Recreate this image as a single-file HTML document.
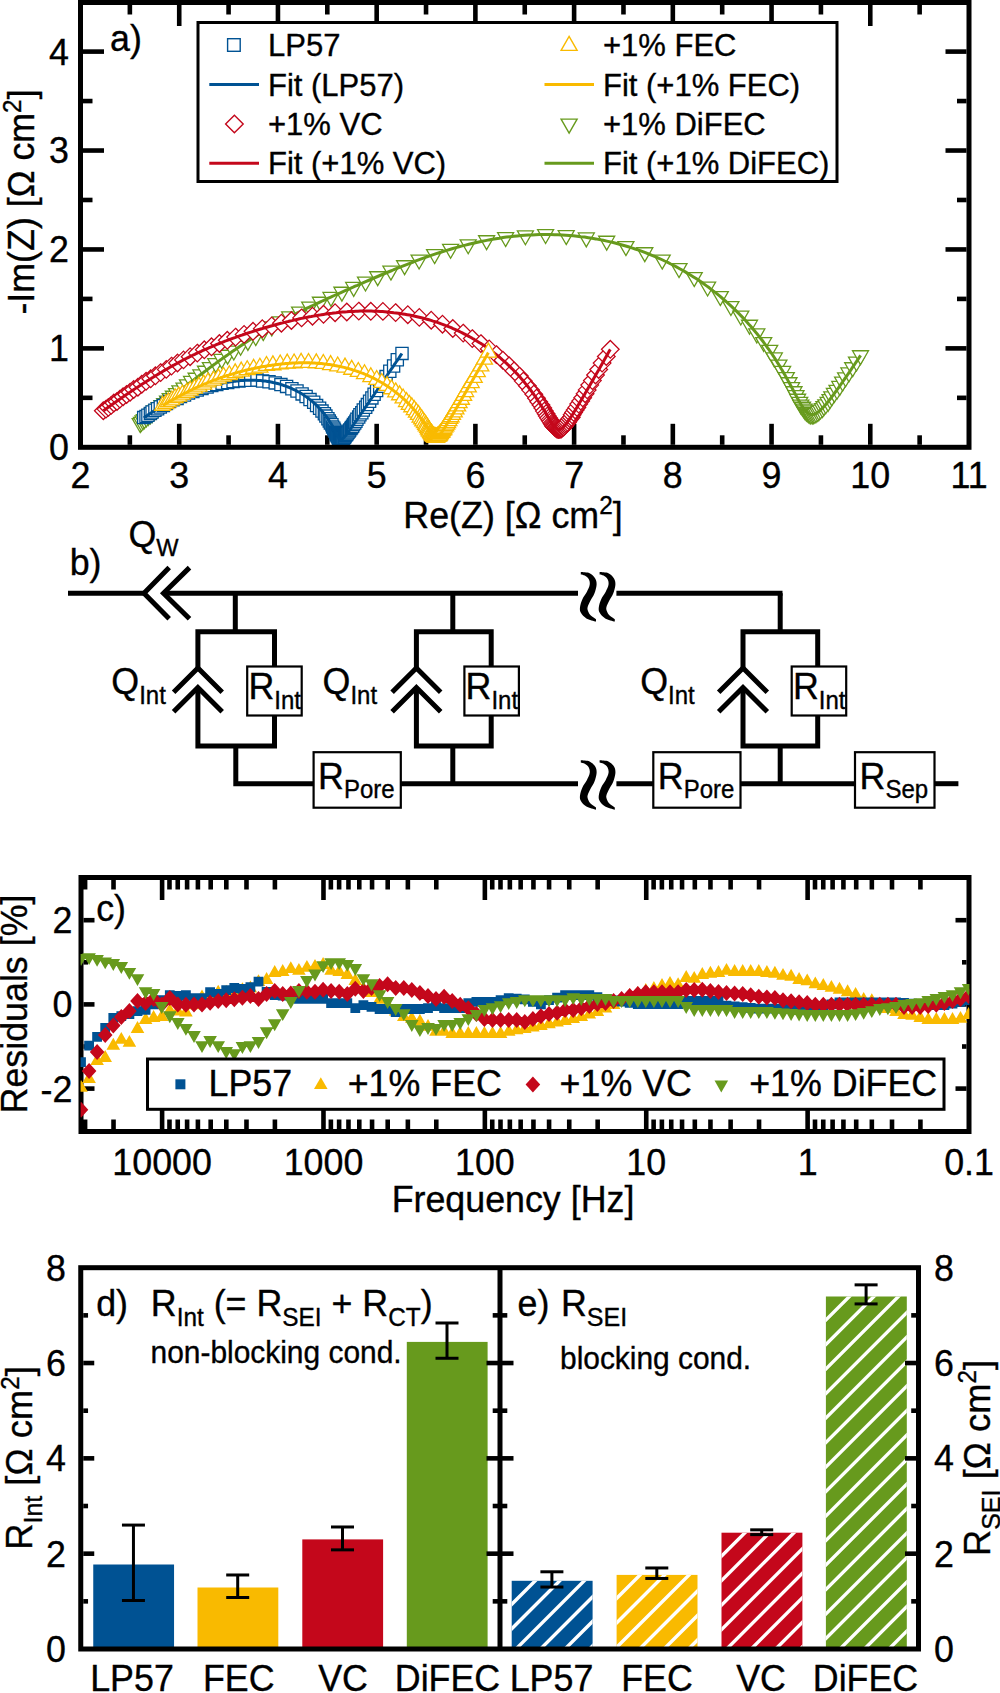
<!DOCTYPE html>
<html><head><meta charset="utf-8"><title>Figure</title>
<style>html,body{margin:0;padding:0;background:#fff}svg{display:block}text{font-family:"Liberation Sans",Arial,Helvetica,sans-serif;fill:#000;stroke:#000;stroke-width:0.35px}</style>
</head><body>
<svg width="1000" height="1693" viewBox="0 0 1000 1693">
<rect width="1000" height="1693" fill="#fff"/>
<defs>
<clipPath id="clipA"><rect x="80.5" y="2.5" width="888.5" height="444.8"/></clipPath>
<clipPath id="clipC"><rect x="80.6" y="877.5" width="888.8" height="254.0"/></clipPath>
<path id="m_sq" d="M-6.1 -6.1h12.2v12.2h-12.2z"/><path id="m_di" d="M0 -8.8l8.8 8.8l-8.8 8.8l-8.8 -8.8z"/><path id="m_up" d="M0 -9.27l8 13.9h-16z"/><path id="m_dn" d="M0 9.27l8 -13.9h-16z"/>
</defs>
<line x1="129.86" y1="444.80" x2="129.86" y2="435.30" stroke="#000" stroke-width="4.6" />
<line x1="129.86" y1="5.00" x2="129.86" y2="14.50" stroke="#000" stroke-width="4.6" />
<line x1="179.22" y1="444.80" x2="179.22" y2="423.80" stroke="#000" stroke-width="4.6" />
<line x1="179.22" y1="5.00" x2="179.22" y2="26.00" stroke="#000" stroke-width="4.6" />
<line x1="228.58" y1="444.80" x2="228.58" y2="435.30" stroke="#000" stroke-width="4.6" />
<line x1="228.58" y1="5.00" x2="228.58" y2="14.50" stroke="#000" stroke-width="4.6" />
<line x1="277.94" y1="444.80" x2="277.94" y2="423.80" stroke="#000" stroke-width="4.6" />
<line x1="277.94" y1="5.00" x2="277.94" y2="26.00" stroke="#000" stroke-width="4.6" />
<line x1="327.31" y1="444.80" x2="327.31" y2="435.30" stroke="#000" stroke-width="4.6" />
<line x1="327.31" y1="5.00" x2="327.31" y2="14.50" stroke="#000" stroke-width="4.6" />
<line x1="376.67" y1="444.80" x2="376.67" y2="423.80" stroke="#000" stroke-width="4.6" />
<line x1="376.67" y1="5.00" x2="376.67" y2="26.00" stroke="#000" stroke-width="4.6" />
<line x1="426.03" y1="444.80" x2="426.03" y2="435.30" stroke="#000" stroke-width="4.6" />
<line x1="426.03" y1="5.00" x2="426.03" y2="14.50" stroke="#000" stroke-width="4.6" />
<line x1="475.39" y1="444.80" x2="475.39" y2="423.80" stroke="#000" stroke-width="4.6" />
<line x1="475.39" y1="5.00" x2="475.39" y2="26.00" stroke="#000" stroke-width="4.6" />
<line x1="524.75" y1="444.80" x2="524.75" y2="435.30" stroke="#000" stroke-width="4.6" />
<line x1="524.75" y1="5.00" x2="524.75" y2="14.50" stroke="#000" stroke-width="4.6" />
<line x1="574.11" y1="444.80" x2="574.11" y2="423.80" stroke="#000" stroke-width="4.6" />
<line x1="574.11" y1="5.00" x2="574.11" y2="26.00" stroke="#000" stroke-width="4.6" />
<line x1="623.47" y1="444.80" x2="623.47" y2="435.30" stroke="#000" stroke-width="4.6" />
<line x1="623.47" y1="5.00" x2="623.47" y2="14.50" stroke="#000" stroke-width="4.6" />
<line x1="672.83" y1="444.80" x2="672.83" y2="423.80" stroke="#000" stroke-width="4.6" />
<line x1="672.83" y1="5.00" x2="672.83" y2="26.00" stroke="#000" stroke-width="4.6" />
<line x1="722.19" y1="444.80" x2="722.19" y2="435.30" stroke="#000" stroke-width="4.6" />
<line x1="722.19" y1="5.00" x2="722.19" y2="14.50" stroke="#000" stroke-width="4.6" />
<line x1="771.56" y1="444.80" x2="771.56" y2="423.80" stroke="#000" stroke-width="4.6" />
<line x1="771.56" y1="5.00" x2="771.56" y2="26.00" stroke="#000" stroke-width="4.6" />
<line x1="820.92" y1="444.80" x2="820.92" y2="435.30" stroke="#000" stroke-width="4.6" />
<line x1="820.92" y1="5.00" x2="820.92" y2="14.50" stroke="#000" stroke-width="4.6" />
<line x1="870.28" y1="444.80" x2="870.28" y2="423.80" stroke="#000" stroke-width="4.6" />
<line x1="870.28" y1="5.00" x2="870.28" y2="26.00" stroke="#000" stroke-width="4.6" />
<line x1="919.64" y1="444.80" x2="919.64" y2="435.30" stroke="#000" stroke-width="4.6" />
<line x1="919.64" y1="5.00" x2="919.64" y2="14.50" stroke="#000" stroke-width="4.6" />
<line x1="83.00" y1="397.84" x2="92.50" y2="397.84" stroke="#000" stroke-width="4.6" />
<line x1="966.50" y1="397.84" x2="957.00" y2="397.84" stroke="#000" stroke-width="4.6" />
<line x1="83.00" y1="348.38" x2="104.00" y2="348.38" stroke="#000" stroke-width="4.6" />
<line x1="966.50" y1="348.38" x2="945.50" y2="348.38" stroke="#000" stroke-width="4.6" />
<line x1="83.00" y1="298.91" x2="92.50" y2="298.91" stroke="#000" stroke-width="4.6" />
<line x1="966.50" y1="298.91" x2="957.00" y2="298.91" stroke="#000" stroke-width="4.6" />
<line x1="83.00" y1="249.45" x2="104.00" y2="249.45" stroke="#000" stroke-width="4.6" />
<line x1="966.50" y1="249.45" x2="945.50" y2="249.45" stroke="#000" stroke-width="4.6" />
<line x1="83.00" y1="199.99" x2="92.50" y2="199.99" stroke="#000" stroke-width="4.6" />
<line x1="966.50" y1="199.99" x2="957.00" y2="199.99" stroke="#000" stroke-width="4.6" />
<line x1="83.00" y1="150.53" x2="104.00" y2="150.53" stroke="#000" stroke-width="4.6" />
<line x1="966.50" y1="150.53" x2="945.50" y2="150.53" stroke="#000" stroke-width="4.6" />
<line x1="83.00" y1="101.06" x2="92.50" y2="101.06" stroke="#000" stroke-width="4.6" />
<line x1="966.50" y1="101.06" x2="957.00" y2="101.06" stroke="#000" stroke-width="4.6" />
<line x1="83.00" y1="51.60" x2="104.00" y2="51.60" stroke="#000" stroke-width="4.6" />
<line x1="966.50" y1="51.60" x2="945.50" y2="51.60" stroke="#000" stroke-width="4.6" />
<g clip-path="url(#clipA)">
<g fill="#fff" stroke="#679A1D" stroke-width="1.3">
<use href="#m_dn" x="140.2" y="423.3"/>
<use href="#m_dn" x="141.5" y="422.0"/>
<use href="#m_dn" x="143.0" y="420.5"/>
<use href="#m_dn" x="144.4" y="419.4"/>
<use href="#m_dn" x="146.4" y="417.7"/>
<use href="#m_dn" x="148.3" y="416.1"/>
<use href="#m_dn" x="150.3" y="414.6"/>
<use href="#m_dn" x="152.3" y="413.1"/>
<use href="#m_dn" x="154.5" y="410.9"/>
<use href="#m_dn" x="156.7" y="409.4"/>
<use href="#m_dn" x="159.0" y="407.2"/>
<use href="#m_dn" x="161.9" y="405.3"/>
<use href="#m_dn" x="164.6" y="403.3"/>
<use href="#m_dn" x="167.5" y="400.7"/>
<use href="#m_dn" x="170.2" y="398.3"/>
<use href="#m_dn" x="173.3" y="395.9"/>
<use href="#m_dn" x="176.6" y="393.2"/>
<use href="#m_dn" x="179.9" y="390.5"/>
<use href="#m_dn" x="184.0" y="387.7"/>
<use href="#m_dn" x="187.5" y="384.5"/>
<use href="#m_dn" x="191.6" y="381.1"/>
<use href="#m_dn" x="196.1" y="377.9"/>
<use href="#m_dn" x="200.9" y="374.6"/>
<use href="#m_dn" x="205.5" y="370.9"/>
<use href="#m_dn" x="210.4" y="367.2"/>
<use href="#m_dn" x="215.8" y="363.3"/>
<use href="#m_dn" x="221.7" y="359.0"/>
<use href="#m_dn" x="227.6" y="354.9"/>
<use href="#m_dn" x="233.8" y="350.7"/>
<use href="#m_dn" x="240.6" y="346.0"/>
<use href="#m_dn" x="247.9" y="341.1"/>
<use href="#m_dn" x="255.7" y="336.3"/>
<use href="#m_dn" x="263.2" y="331.3"/>
<use href="#m_dn" x="271.8" y="326.6"/>
<use href="#m_dn" x="280.6" y="321.5"/>
<use href="#m_dn" x="289.7" y="316.6"/>
<use href="#m_dn" x="299.6" y="311.8"/>
<use href="#m_dn" x="309.7" y="306.7"/>
<use href="#m_dn" x="320.4" y="301.9"/>
<use href="#m_dn" x="331.0" y="297.1"/>
<use href="#m_dn" x="341.9" y="291.9"/>
<use href="#m_dn" x="353.7" y="287.1"/>
<use href="#m_dn" x="365.5" y="281.7"/>
<use href="#m_dn" x="377.7" y="276.4"/>
<use href="#m_dn" x="390.9" y="270.8"/>
<use href="#m_dn" x="404.6" y="265.4"/>
<use href="#m_dn" x="419.1" y="259.7"/>
<use href="#m_dn" x="434.6" y="254.3"/>
<use href="#m_dn" x="450.6" y="249.0"/>
<use href="#m_dn" x="468.2" y="244.5"/>
<use href="#m_dn" x="486.6" y="240.4"/>
<use href="#m_dn" x="505.6" y="237.3"/>
<use href="#m_dn" x="525.4" y="235.5"/>
<use href="#m_dn" x="545.6" y="234.2"/>
<use href="#m_dn" x="566.2" y="235.3"/>
<use href="#m_dn" x="586.3" y="237.6"/>
<use href="#m_dn" x="606.7" y="240.9"/>
<use href="#m_dn" x="625.9" y="246.3"/>
<use href="#m_dn" x="644.8" y="252.4"/>
<use href="#m_dn" x="662.2" y="259.8"/>
<use href="#m_dn" x="679.0" y="268.3"/>
<use href="#m_dn" x="694.2" y="277.3"/>
<use href="#m_dn" x="707.6" y="286.7"/>
<use href="#m_dn" x="720.3" y="296.3"/>
<use href="#m_dn" x="730.9" y="306.2"/>
<use href="#m_dn" x="740.8" y="315.7"/>
<use href="#m_dn" x="749.5" y="324.9"/>
<use href="#m_dn" x="756.8" y="333.6"/>
<use href="#m_dn" x="763.7" y="342.2"/>
<use href="#m_dn" x="769.7" y="350.0"/>
<use href="#m_dn" x="774.3" y="357.6"/>
<use href="#m_dn" x="778.9" y="364.7"/>
<use href="#m_dn" x="782.6" y="371.1"/>
<use href="#m_dn" x="786.3" y="377.2"/>
<use href="#m_dn" x="789.0" y="382.4"/>
<use href="#m_dn" x="791.6" y="387.2"/>
<use href="#m_dn" x="794.0" y="391.4"/>
<use href="#m_dn" x="796.0" y="395.3"/>
<use href="#m_dn" x="797.6" y="398.9"/>
<use href="#m_dn" x="799.7" y="402.0"/>
<use href="#m_dn" x="800.8" y="404.8"/>
<use href="#m_dn" x="802.5" y="406.9"/>
<use href="#m_dn" x="803.9" y="408.8"/>
<use href="#m_dn" x="805.0" y="410.5"/>
<use href="#m_dn" x="806.4" y="412.0"/>
<use href="#m_dn" x="807.8" y="412.7"/>
<use href="#m_dn" x="808.8" y="413.6"/>
<use href="#m_dn" x="809.9" y="414.3"/>
<use href="#m_dn" x="810.8" y="414.6"/>
<use href="#m_dn" x="812.3" y="414.6"/>
<use href="#m_dn" x="813.6" y="414.4"/>
<use href="#m_dn" x="814.9" y="414.0"/>
<use href="#m_dn" x="816.1" y="413.2"/>
<use href="#m_dn" x="817.7" y="412.3"/>
<use href="#m_dn" x="819.0" y="411.1"/>
<use href="#m_dn" x="820.6" y="409.7"/>
<use href="#m_dn" x="822.4" y="408.3"/>
<use href="#m_dn" x="823.9" y="406.4"/>
<use href="#m_dn" x="825.8" y="404.5"/>
<use href="#m_dn" x="828.1" y="402.1"/>
<use href="#m_dn" x="830.0" y="399.2"/>
<use href="#m_dn" x="831.8" y="396.6"/>
<use href="#m_dn" x="834.4" y="393.1"/>
<use href="#m_dn" x="837.0" y="390.0"/>
<use href="#m_dn" x="839.8" y="386.1"/>
<use href="#m_dn" x="842.6" y="381.8"/>
<use href="#m_dn" x="845.6" y="377.5"/>
<use href="#m_dn" x="848.9" y="372.6"/>
<use href="#m_dn" x="852.7" y="367.4"/>
<use href="#m_dn" x="856.5" y="361.7"/>
<use href="#m_dn" x="860.5" y="355.4"/>
</g>
<polyline points="139.9,423.2 140.2,423.0 140.5,422.8 140.8,422.5 141.0,422.3 141.3,422.1 141.6,421.8 141.9,421.6 142.2,421.4 142.5,421.1 142.8,420.9 143.1,420.6 143.4,420.4 143.7,420.1 144.0,419.9 144.3,419.6 144.6,419.3 144.9,419.1 145.2,418.8 145.6,418.6 145.9,418.3 146.2,418.0 146.5,417.7 146.9,417.5 147.2,417.2 147.6,416.9 147.9,416.6 148.3,416.3 148.6,416.0 149.0,415.7 149.3,415.4 149.7,415.1 150.0,414.8 150.4,414.5 150.8,414.2 151.2,413.9 151.5,413.6 151.9,413.3 152.3,413.0 152.7,412.7 153.1,412.3 153.5,412.0 153.9,411.7 154.3,411.3 154.7,411.0 155.1,410.7 155.5,410.3 156.0,410.0 156.4,409.6 156.8,409.3 157.2,408.9 157.7,408.6 158.1,408.2 158.6,407.8 159.0,407.5 159.5,407.1 159.9,406.7 160.4,406.3 160.9,406.0 161.3,405.6 161.8,405.2 162.3,404.8 162.8,404.4 163.3,404.0 163.8,403.6 164.3,403.2 164.8,402.8 165.3,402.4 165.8,401.9 166.3,401.5 166.8,401.1 167.4,400.7 167.9,400.2 168.4,399.8 169.0,399.4 169.5,398.9 170.1,398.5 170.7,398.0 171.2,397.6 171.8,397.1 172.4,396.6 173.0,396.2 173.6,395.7 174.2,395.2 174.8,394.7 175.4,394.3 176.0,393.8 176.6,393.3 177.2,392.8 177.9,392.3 178.5,391.8 179.1,391.3 179.8,390.7 180.4,390.2 181.1,389.7 181.8,389.2 182.4,388.6 183.1,388.1 183.8,387.6 184.5,387.0 185.2,386.5 185.9,385.9 186.6,385.3 187.4,384.8 188.1,384.2 188.8,383.6 189.6,383.1 190.3,382.5 191.1,381.9 191.9,381.3 192.6,380.7 193.4,380.1 194.2,379.5 195.0,378.9 195.8,378.2 196.6,377.6 197.5,377.0 198.3,376.4 199.1,375.7 200.0,375.1 200.8,374.4 201.7,373.8 202.6,373.1 203.5,372.5 204.4,371.8 205.3,371.1 206.2,370.4 207.1,369.7 208.0,369.0 208.9,368.4 209.9,367.6 210.8,366.9 211.8,366.2 212.8,365.5 213.8,364.8 214.8,364.1 215.8,363.3 216.8,362.6 217.8,361.8 218.9,361.1 219.9,360.3 221.0,359.6 222.0,358.8 223.1,358.0 224.2,357.2 225.3,356.5 226.4,355.7 227.6,354.9 228.7,354.1 229.8,353.3 231.0,352.4 232.2,351.6 233.4,350.8 234.6,350.0 235.8,349.2 237.0,348.3 238.3,347.5 239.5,346.6 240.8,345.8 242.1,344.9 243.4,344.1 244.7,343.2 246.0,342.3 247.3,341.5 248.7,340.6 250.1,339.7 251.4,338.8 252.8,337.9 254.2,337.1 255.7,336.2 257.1,335.3 258.6,334.4 260.0,333.5 261.5,332.6 263.0,331.7 264.5,330.8 266.1,329.9 267.6,329.0 269.2,328.1 270.8,327.2 272.3,326.3 273.9,325.4 275.6,324.4 277.2,323.5 278.8,322.6 280.5,321.7 282.2,320.8 283.9,319.9 285.6,319.0 287.3,318.1 289.0,317.2 290.8,316.3 292.5,315.4 294.3,314.5 296.1,313.6 297.9,312.7 299.7,311.8 301.5,310.9 303.3,310.0 305.2,309.1 307.0,308.2 308.9,307.3 310.8,306.4 312.7,305.5 314.6,304.6 316.5,303.7 318.4,302.8 320.4,301.9 322.3,301.0 324.3,300.1 326.3,299.2 328.3,298.2 330.3,297.3 332.3,296.4 334.3,295.5 336.3,294.6 338.4,293.7 340.4,292.8 342.5,291.8 344.6,290.9 346.7,290.0 348.8,289.1 350.9,288.1 353.1,287.2 355.2,286.2 357.4,285.3 359.6,284.3 361.7,283.4 364.0,282.4 366.2,281.4 368.4,280.5 370.7,279.5 373.0,278.5 375.3,277.5 377.6,276.5 379.9,275.5 382.3,274.5 384.7,273.5 387.1,272.5 389.5,271.5 392.0,270.5 394.4,269.4 396.9,268.4 399.5,267.4 402.0,266.4 404.6,265.3 407.2,264.3 409.8,263.3 412.5,262.3 415.2,261.2 417.9,260.2 420.6,259.2 423.4,258.2 426.2,257.2 429.0,256.2 431.9,255.2 434.8,254.2 437.7,253.2 440.7,252.3 443.7,251.3 446.7,250.4 449.7,249.5 452.8,248.5 456.0,247.6 459.1,246.8 462.3,245.9 465.5,245.1 468.8,244.3 472.0,243.5 475.4,242.7 478.7,242.0 482.1,241.3 485.5,240.6 488.9,239.9 492.4,239.3 495.9,238.7 499.4,238.2 502.9,237.6 506.5,237.1 510.1,236.7 513.7,236.3 517.3,235.9 521.0,235.6 524.6,235.3 528.3,235.1 532.0,234.9 535.7,234.7 539.5,234.6 543.2,234.6 546.9,234.6 550.7,234.6 554.5,234.7 558.2,234.8 562.0,235.0 565.8,235.2 569.6,235.5 573.3,235.8 577.1,236.2 580.8,236.7 584.6,237.1 588.3,237.7 592.1,238.3 595.8,238.9 599.5,239.6 603.2,240.3 606.8,241.1 610.5,241.9 614.1,242.8 617.7,243.7 621.2,244.7 624.8,245.7 628.3,246.8 631.8,247.9 635.2,249.0 638.7,250.2 642.1,251.4 645.4,252.7 648.7,254.0 652.0,255.3 655.2,256.7 658.4,258.1 661.6,259.5 664.7,261.0 667.8,262.4 670.8,264.0 673.8,265.5 676.8,267.1 679.7,268.7 682.5,270.3 685.3,271.9 688.1,273.6 690.8,275.2 693.5,276.9 696.1,278.6 698.7,280.3 701.3,282.1 703.7,283.8 706.2,285.6 708.6,287.3 710.9,289.1 713.2,290.9 715.5,292.6 717.7,294.4 719.9,296.2 722.0,298.0 724.1,299.8 726.1,301.5 728.1,303.3 730.1,305.1 732.0,306.9 733.8,308.6 735.7,310.4 737.4,312.1 739.2,313.9 740.9,315.6 742.6,317.4 744.2,319.1 745.8,320.8 747.3,322.5 748.8,324.2 750.3,325.8 751.8,327.5 753.2,329.2 754.5,330.8 755.9,332.4 757.2,334.0 758.5,335.6 759.7,337.2 760.9,338.8 762.1,340.3 763.3,341.8 764.4,343.3 765.5,344.8 766.6,346.3 767.6,347.8 768.6,349.2 769.6,350.6 770.6,352.0 771.6,353.4 772.5,354.8 773.4,356.2 774.3,357.5 775.1,358.8 775.9,360.1 776.8,361.4 777.5,362.7 778.3,363.9 779.1,365.1 779.8,366.3 780.5,367.5 781.2,368.7 781.9,369.8 782.6,371.0 783.2,372.1 783.9,373.2 784.5,374.3 785.1,375.3 785.7,376.4 786.3,377.4 786.8,378.4 787.4,379.4 787.9,380.4 788.4,381.3 789.0,382.3 789.5,383.2 789.9,384.1 790.4,385.0 790.9,385.9 791.4,386.7 791.8,387.6 792.2,388.4 792.7,389.2 793.1,390.0 793.5,390.8 793.9,391.6 794.3,392.3 794.7,393.0 795.1,393.8 795.4,394.5 795.8,395.1 796.2,395.8 796.5,396.5 796.9,397.1 797.2,397.8 797.5,398.4 797.9,399.0 798.2,399.6 798.5,400.1 798.8,400.7 799.1,401.2 799.4,401.8 799.7,402.3 800.0,402.8 800.3,403.3 800.6,403.8 800.9,404.3 801.1,404.7 801.4,405.2 801.7,405.6 802.0,406.0 802.2,406.4 802.5,406.8 802.7,407.2 803.0,407.6 803.2,408.0 803.5,408.3 803.7,408.7 804.0,409.0 804.2,409.3 804.5,409.7 804.7,410.0 804.9,410.2 805.2,410.5 805.4,410.8 805.6,411.1 805.8,411.3 806.1,411.6 806.3,411.8 806.5,412.0 806.8,412.2 807.0,412.4 807.2,412.6 807.4,412.8 807.6,413.0 807.9,413.1 808.1,413.3 808.3,413.4 808.5,413.6 808.7,413.7 809.0,413.8 809.2,413.9 809.4,414.0 809.6,414.1 809.8,414.2 810.1,414.3 810.3,414.4 810.5,414.4 810.7,414.5 810.9,414.5 811.1,414.5 811.4,414.6 811.6,414.6 811.8,414.6 812.0,414.6 812.3,414.6 812.5,414.6 812.7,414.6 812.9,414.5 813.2,414.5 813.4,414.4 813.6,414.4 813.9,414.3 814.1,414.3 814.3,414.2 814.6,414.1 814.8,414.0 815.0,413.9 815.3,413.8 815.5,413.7 815.8,413.6 816.0,413.4 816.3,413.3 816.5,413.1 816.8,413.0 817.0,412.8 817.3,412.6 817.5,412.5 817.8,412.3 818.1,412.1 818.3,411.9 818.6,411.7 818.9,411.5 819.1,411.2 819.4,411.0 819.7,410.8 820.0,410.5 820.3,410.3 820.6,410.0 820.8,409.7 821.1,409.4 821.4,409.1 821.7,408.8 822.0,408.5 822.3,408.2 822.7,407.9 823.0,407.6 823.3,407.2 823.6,406.9 823.9,406.5 824.2,406.2 824.6,405.8 824.9,405.4 825.2,405.1 825.6,404.7 825.9,404.3 826.3,403.8 826.6,403.4 827.0,403.0 827.4,402.6 827.7,402.1 828.1,401.6 828.5,401.2 828.8,400.7 829.2,400.2 829.6,399.7 830.0,399.2 830.4,398.7 830.8,398.2 831.2,397.7 831.6,397.1 832.0,396.6 832.5,396.0 832.9,395.4 833.3,394.9 833.8,394.3 834.2,393.7 834.7,393.1 835.1,392.4 835.6,391.8 836.0,391.2 836.5,390.5 837.0,389.9 837.5,389.2 838.0,388.5 838.5,387.8 839.0,387.1 839.5,386.4 840.0,385.6 840.5,384.9 841.0,384.2 841.6,383.4 842.1,382.6 842.7,381.8 843.2,381.0 843.8,380.2 844.4,379.4 844.9,378.5 845.5,377.7 846.1,376.8 846.7,376.0 847.3,375.1 848.0,374.2 848.6,373.2 849.2,372.3 849.9,371.4 850.5,370.4 851.2,369.4 851.8,368.4 852.5,367.4 853.2,366.4 853.9,365.4 854.6,364.4 855.3,363.3 856.1,362.2 856.8,361.1 857.5,360.0 858.3,358.9 859.0,357.8 859.8,356.6 860.6,355.4" fill="none" stroke="#679A1D" stroke-width="3" stroke-linejoin="round"/>
<g fill="#fff" stroke="#005293" stroke-width="1.3">
<use href="#m_sq" x="143.7" y="417.6"/>
<use href="#m_sq" x="146.0" y="416.6"/>
<use href="#m_sq" x="147.9" y="415.3"/>
<use href="#m_sq" x="150.4" y="413.6"/>
<use href="#m_sq" x="152.1" y="412.0"/>
<use href="#m_sq" x="154.9" y="410.3"/>
<use href="#m_sq" x="157.6" y="408.8"/>
<use href="#m_sq" x="160.3" y="407.0"/>
<use href="#m_sq" x="163.4" y="405.6"/>
<use href="#m_sq" x="166.4" y="403.4"/>
<use href="#m_sq" x="169.5" y="401.5"/>
<use href="#m_sq" x="173.1" y="399.7"/>
<use href="#m_sq" x="177.1" y="398.4"/>
<use href="#m_sq" x="180.5" y="396.4"/>
<use href="#m_sq" x="184.5" y="395.1"/>
<use href="#m_sq" x="188.5" y="393.0"/>
<use href="#m_sq" x="192.9" y="391.5"/>
<use href="#m_sq" x="197.2" y="390.1"/>
<use href="#m_sq" x="202.0" y="388.4"/>
<use href="#m_sq" x="207.1" y="387.0"/>
<use href="#m_sq" x="211.8" y="385.6"/>
<use href="#m_sq" x="216.8" y="384.5"/>
<use href="#m_sq" x="222.1" y="383.3"/>
<use href="#m_sq" x="227.7" y="382.6"/>
<use href="#m_sq" x="233.1" y="381.6"/>
<use href="#m_sq" x="239.0" y="380.9"/>
<use href="#m_sq" x="244.8" y="380.3"/>
<use href="#m_sq" x="250.7" y="380.2"/>
<use href="#m_sq" x="257.0" y="380.1"/>
<use href="#m_sq" x="262.6" y="381.0"/>
<use href="#m_sq" x="269.0" y="381.7"/>
<use href="#m_sq" x="275.2" y="382.9"/>
<use href="#m_sq" x="280.9" y="384.6"/>
<use href="#m_sq" x="286.6" y="386.4"/>
<use href="#m_sq" x="291.9" y="388.8"/>
<use href="#m_sq" x="297.0" y="391.0"/>
<use href="#m_sq" x="302.1" y="393.9"/>
<use href="#m_sq" x="306.1" y="396.5"/>
<use href="#m_sq" x="310.0" y="399.6"/>
<use href="#m_sq" x="313.7" y="402.3"/>
<use href="#m_sq" x="316.6" y="405.6"/>
<use href="#m_sq" x="319.6" y="408.2"/>
<use href="#m_sq" x="322.0" y="411.1"/>
<use href="#m_sq" x="324.4" y="413.7"/>
<use href="#m_sq" x="325.9" y="416.1"/>
<use href="#m_sq" x="327.9" y="418.8"/>
<use href="#m_sq" x="329.3" y="421.1"/>
<use href="#m_sq" x="330.4" y="423.1"/>
<use href="#m_sq" x="331.9" y="424.8"/>
<use href="#m_sq" x="332.6" y="426.9"/>
<use href="#m_sq" x="333.8" y="428.3"/>
<use href="#m_sq" x="334.4" y="429.9"/>
<use href="#m_sq" x="335.1" y="431.3"/>
<use href="#m_sq" x="335.7" y="432.4"/>
<use href="#m_sq" x="336.3" y="433.4"/>
<use href="#m_sq" x="336.4" y="434.5"/>
<use href="#m_sq" x="337.1" y="435.4"/>
<use href="#m_sq" x="337.5" y="436.1"/>
<use href="#m_sq" x="338.0" y="436.8"/>
<use href="#m_sq" x="338.3" y="437.8"/>
<use href="#m_sq" x="338.7" y="438.0"/>
<use href="#m_sq" x="338.8" y="438.3"/>
<use href="#m_sq" x="339.5" y="438.5"/>
<use href="#m_sq" x="339.9" y="438.7"/>
<use href="#m_sq" x="339.8" y="439.1"/>
<use href="#m_sq" x="340.1" y="439.4"/>
<use href="#m_sq" x="340.4" y="439.7"/>
<use href="#m_sq" x="340.9" y="439.6"/>
<use href="#m_sq" x="341.3" y="439.5"/>
<use href="#m_sq" x="341.1" y="439.3"/>
<use href="#m_sq" x="341.5" y="439.5"/>
<use href="#m_sq" x="341.8" y="439.2"/>
<use href="#m_sq" x="342.1" y="438.9"/>
<use href="#m_sq" x="342.4" y="438.5"/>
<use href="#m_sq" x="343.0" y="438.4"/>
<use href="#m_sq" x="343.2" y="438.2"/>
<use href="#m_sq" x="344.0" y="437.8"/>
<use href="#m_sq" x="344.4" y="437.2"/>
<use href="#m_sq" x="344.6" y="436.7"/>
<use href="#m_sq" x="345.1" y="435.9"/>
<use href="#m_sq" x="345.7" y="435.2"/>
<use href="#m_sq" x="346.5" y="434.6"/>
<use href="#m_sq" x="346.8" y="433.7"/>
<use href="#m_sq" x="347.4" y="433.1"/>
<use href="#m_sq" x="348.3" y="432.0"/>
<use href="#m_sq" x="349.1" y="431.1"/>
<use href="#m_sq" x="349.7" y="429.9"/>
<use href="#m_sq" x="350.9" y="428.5"/>
<use href="#m_sq" x="351.6" y="427.4"/>
<use href="#m_sq" x="352.6" y="426.3"/>
<use href="#m_sq" x="353.5" y="424.5"/>
<use href="#m_sq" x="354.7" y="423.0"/>
<use href="#m_sq" x="355.9" y="421.3"/>
<use href="#m_sq" x="356.9" y="419.3"/>
<use href="#m_sq" x="358.7" y="417.0"/>
<use href="#m_sq" x="359.9" y="414.7"/>
<use href="#m_sq" x="361.8" y="412.7"/>
<use href="#m_sq" x="363.3" y="410.0"/>
<use href="#m_sq" x="365.7" y="407.2"/>
<use href="#m_sq" x="367.4" y="404.6"/>
<use href="#m_sq" x="369.6" y="401.3"/>
<use href="#m_sq" x="371.9" y="397.9"/>
<use href="#m_sq" x="374.1" y="394.2"/>
<use href="#m_sq" x="376.6" y="390.6"/>
<use href="#m_sq" x="379.7" y="386.2"/>
<use href="#m_sq" x="383.0" y="381.5"/>
<use href="#m_sq" x="386.1" y="376.6"/>
<use href="#m_sq" x="389.8" y="371.3"/>
<use href="#m_sq" x="393.6" y="366.0"/>
<use href="#m_sq" x="397.3" y="359.7"/>
<use href="#m_sq" x="402.0" y="353.4"/>
</g>
<polyline points="143.8,417.9 144.2,417.6 144.5,417.4 144.9,417.1 145.3,416.9 145.6,416.6 146.0,416.3 146.4,416.1 146.8,415.8 147.2,415.5 147.5,415.3 147.9,415.0 148.3,414.7 148.7,414.5 149.1,414.2 149.6,413.9 150.0,413.6 150.4,413.3 150.8,413.1 151.2,412.8 151.7,412.5 152.1,412.2 152.6,411.9 153.0,411.6 153.4,411.3 153.9,411.0 154.4,410.7 154.8,410.4 155.3,410.1 155.8,409.8 156.2,409.5 156.7,409.2 157.2,408.9 157.7,408.6 158.2,408.3 158.7,408.0 159.2,407.7 159.7,407.3 160.2,407.0 160.8,406.7 161.3,406.4 161.8,406.1 162.4,405.8 162.9,405.4 163.5,405.1 164.0,404.8 164.6,404.5 165.2,404.1 165.7,403.8 166.3,403.5 166.9,403.2 167.5,402.8 168.1,402.5 168.7,402.2 169.3,401.9 169.9,401.5 170.5,401.2 171.2,400.9 171.8,400.5 172.5,400.2 173.1,399.9 173.8,399.6 174.4,399.2 175.1,398.9 175.7,398.6 176.4,398.3 177.1,397.9 177.8,397.6 178.5,397.3 179.2,397.0 179.9,396.7 180.6,396.3 181.3,396.0 182.1,395.7 182.8,395.4 183.5,395.1 184.3,394.8 185.0,394.5 185.8,394.2 186.5,393.8 187.3,393.5 188.1,393.2 188.8,392.9 189.6,392.6 190.4,392.4 191.2,392.1 192.0,391.8 192.8,391.5 193.6,391.2 194.4,390.9 195.2,390.6 196.1,390.3 196.9,390.1 197.7,389.8 198.6,389.5 199.4,389.2 200.3,389.0 201.1,388.7 202.0,388.4 202.8,388.2 203.7,387.9 204.6,387.7 205.4,387.4 206.3,387.2 207.2,386.9 208.1,386.7 209.0,386.4 209.9,386.2 210.8,385.9 211.7,385.7 212.7,385.5 213.6,385.2 214.5,385.0 215.5,384.8 216.4,384.6 217.3,384.3 218.3,384.1 219.3,383.9 220.2,383.7 221.2,383.5 222.2,383.3 223.1,383.1 224.1,382.9 225.1,382.7 226.1,382.6 227.1,382.4 228.1,382.2 229.2,382.0 230.2,381.9 231.2,381.7 232.2,381.6 233.3,381.4 234.3,381.3 235.4,381.2 236.4,381.0 237.5,380.9 238.6,380.8 239.6,380.7 240.7,380.6 241.8,380.5 242.9,380.5 244.0,380.4 245.1,380.3 246.2,380.3 247.3,380.3 248.4,380.2 249.5,380.2 250.6,380.2 251.8,380.2 252.9,380.2 254.0,380.2 255.1,380.3 256.3,380.3 257.4,380.4 258.5,380.5 259.6,380.5 260.8,380.6 261.9,380.7 263.0,380.9 264.2,381.0 265.3,381.1 266.4,381.3 267.6,381.5 268.7,381.6 269.8,381.8 270.9,382.0 272.0,382.2 273.1,382.5 274.2,382.7 275.3,383.0 276.4,383.2 277.5,383.5 278.6,383.8 279.7,384.1 280.7,384.4 281.8,384.8 282.8,385.1 283.9,385.5 284.9,385.8 285.9,386.2 287.0,386.6 288.0,387.0 289.0,387.4 289.9,387.8 290.9,388.2 291.9,388.6 292.8,389.1 293.8,389.5 294.7,390.0 295.6,390.4 296.5,390.9 297.4,391.4 298.3,391.8 299.2,392.3 300.0,392.8 300.9,393.3 301.7,393.8 302.5,394.3 303.3,394.8 304.1,395.4 304.9,395.9 305.7,396.4 306.4,396.9 307.2,397.5 307.9,398.0 308.6,398.5 309.3,399.1 310.0,399.6 310.7,400.1 311.3,400.7 312.0,401.2 312.6,401.8 313.3,402.3 313.9,402.8 314.5,403.4 315.1,403.9 315.6,404.4 316.2,405.0 316.8,405.5 317.3,406.0 317.8,406.6 318.3,407.1 318.8,407.6 319.3,408.1 319.8,408.7 320.3,409.2 320.8,409.7 321.2,410.2 321.7,410.7 322.1,411.2 322.5,411.7 322.9,412.2 323.3,412.7 323.7,413.2 324.1,413.6 324.5,414.1 324.8,414.6 325.2,415.1 325.5,415.5 325.9,416.0 326.2,416.4 326.5,416.9 326.9,417.3 327.2,417.8 327.5,418.2 327.8,418.6 328.1,419.0 328.3,419.4 328.6,419.9 328.9,420.3 329.1,420.7 329.4,421.1 329.6,421.5 329.9,421.8 330.1,422.2 330.3,422.6 330.6,423.0 330.8,423.3 331.0,423.7 331.2,424.0 331.4,424.4 331.6,424.7 331.8,425.1 332.0,425.4 332.2,425.7 332.4,426.1 332.6,426.4 332.7,426.7 332.9,427.0 333.1,427.3 333.2,427.6 333.4,427.9 333.5,428.2 333.7,428.5 333.8,428.8 334.0,429.0 334.1,429.3 334.3,429.6 334.4,429.8 334.5,430.1 334.6,430.3 334.8,430.6 334.9,430.8 335.0,431.1 335.1,431.3 335.2,431.5 335.4,431.8 335.5,432.0 335.6,432.2 335.7,432.4 335.8,432.6 335.9,432.8 336.0,433.0 336.1,433.2 336.2,433.4 336.3,433.6 336.4,433.8 336.5,434.0 336.6,434.2 336.6,434.3 336.7,434.5 336.8,434.7 336.9,434.8 337.0,435.0 337.1,435.2 337.1,435.3 337.2,435.5 337.3,435.6 337.4,435.8 337.4,435.9 337.5,436.0 337.6,436.2 337.7,436.3 337.7,436.4 337.8,436.6 337.9,436.7 337.9,436.8 338.0,436.9 338.1,437.0 338.1,437.1 338.2,437.2 338.3,437.3 338.3,437.4 338.4,437.5 338.4,437.6 338.5,437.7 338.6,437.8 338.6,437.9 338.7,438.0 338.7,438.1 338.8,438.2 338.9,438.2 338.9,438.3 339.0,438.4 339.0,438.5 339.1,438.5 339.1,438.6 339.2,438.7 339.3,438.7 339.3,438.8 339.4,438.8 339.4,438.9 339.5,438.9 339.5,439.0 339.6,439.0 339.6,439.1 339.7,439.1 339.7,439.2 339.8,439.2 339.8,439.3 339.9,439.3 339.9,439.3 340.0,439.4 340.1,439.4 340.1,439.4 340.2,439.4 340.2,439.5 340.3,439.5 340.3,439.5 340.4,439.5 340.4,439.5 340.5,439.5 340.5,439.6 340.6,439.6 340.6,439.6 340.7,439.6 340.7,439.6 340.8,439.6 340.9,439.6 340.9,439.6 341.0,439.6 341.0,439.6 341.1,439.6 341.1,439.6 341.2,439.5 341.2,439.5 341.3,439.5 341.4,439.5 341.4,439.5 341.5,439.5 341.5,439.4 341.6,439.4 341.6,439.4 341.7,439.4 341.8,439.3 341.8,439.3 341.9,439.3 341.9,439.2 342.0,439.2 342.1,439.2 342.1,439.1 342.2,439.1 342.3,439.0 342.3,439.0 342.4,439.0 342.4,438.9 342.5,438.9 342.6,438.8 342.6,438.8 342.7,438.7 342.8,438.6 342.9,438.6 342.9,438.5 343.0,438.5 343.1,438.4 343.1,438.3 343.2,438.3 343.3,438.2 343.4,438.1 343.4,438.0 343.5,438.0 343.6,437.9 343.7,437.8 343.7,437.7 343.8,437.7 343.9,437.6 344.0,437.5 344.1,437.4 344.1,437.3 344.2,437.2 344.3,437.1 344.4,437.0 344.5,436.9 344.6,436.8 344.6,436.7 344.7,436.6 344.8,436.5 344.9,436.4 345.0,436.3 345.1,436.2 345.2,436.1 345.3,436.0 345.4,435.8 345.5,435.7 345.6,435.6 345.7,435.5 345.8,435.3 345.9,435.2 346.0,435.1 346.1,435.0 346.2,434.8 346.3,434.7 346.4,434.5 346.5,434.4 346.6,434.2 346.7,434.1 346.9,434.0 347.0,433.8 347.1,433.6 347.2,433.5 347.3,433.3 347.5,433.2 347.6,433.0 347.7,432.8 347.8,432.7 348.0,432.5 348.1,432.3 348.2,432.1 348.3,432.0 348.5,431.8 348.6,431.6 348.8,431.4 348.9,431.2 349.0,431.0 349.2,430.8 349.3,430.6 349.5,430.4 349.6,430.2 349.8,430.0 349.9,429.8 350.1,429.6 350.2,429.3 350.4,429.1 350.5,428.9 350.7,428.7 350.9,428.4 351.0,428.2 351.2,428.0 351.4,427.7 351.5,427.5 351.7,427.2 351.9,427.0 352.1,426.7 352.3,426.5 352.4,426.2 352.6,425.9 352.8,425.7 353.0,425.4 353.2,425.1 353.4,424.8 353.6,424.5 353.8,424.2 354.0,424.0 354.2,423.7 354.4,423.4 354.6,423.0 354.9,422.7 355.1,422.4 355.3,422.1 355.5,421.8 355.7,421.4 356.0,421.1 356.2,420.8 356.4,420.4 356.7,420.1 356.9,419.7 357.2,419.4 357.4,419.0 357.7,418.7 357.9,418.3 358.2,417.9 358.4,417.5 358.7,417.1 359.0,416.8 359.2,416.4 359.5,416.0 359.8,415.5 360.1,415.1 360.4,414.7 360.7,414.3 360.9,413.9 361.2,413.4 361.5,413.0 361.9,412.5 362.2,412.1 362.5,411.6 362.8,411.2 363.1,410.7 363.4,410.2 363.8,409.7 364.1,409.2 364.4,408.7 364.8,408.2 365.1,407.7 365.5,407.2 365.9,406.7 366.2,406.1 366.6,405.6 367.0,405.1 367.3,404.5 367.7,403.9 368.1,403.4 368.5,402.8 368.9,402.2 369.3,401.6 369.7,401.0 370.1,400.4 370.5,399.8 370.9,399.2 371.4,398.5 371.8,397.9 372.3,397.2 372.7,396.6 373.2,395.9 373.6,395.2 374.1,394.6 374.5,393.9 375.0,393.2 375.5,392.5 376.0,391.7 376.5,391.0 377.0,390.3 377.5,389.5 378.0,388.7 378.5,388.0 379.1,387.2 379.6,386.4 380.2,385.6 380.7,384.8 381.3,384.0 381.8,383.1 382.4,382.3 383.0,381.4 383.6,380.6 384.2,379.7 384.8,378.8 385.4,377.9 386.0,377.0 386.6,376.0 387.3,375.1 387.9,374.1 388.6,373.2 389.2,372.2 389.9,371.2 390.6,370.2 391.3,369.2 392.0,368.2 392.7,367.1 393.4,366.1 394.1,365.0 394.8,363.9 395.6,362.8 396.3,361.7 397.1,360.6 397.9,359.4 398.7,358.3 399.5,357.1 400.3,355.9 401.1,354.7 401.9,353.5" fill="none" stroke="#005293" stroke-width="3" stroke-linejoin="round"/>
<g fill="#fff" stroke="#C4071B" stroke-width="1.3">
<use href="#m_di" x="103.3" y="410.7"/>
<use href="#m_di" x="106.0" y="409.1"/>
<use href="#m_di" x="108.4" y="407.4"/>
<use href="#m_di" x="111.2" y="405.4"/>
<use href="#m_di" x="113.9" y="403.0"/>
<use href="#m_di" x="117.0" y="401.5"/>
<use href="#m_di" x="119.9" y="399.1"/>
<use href="#m_di" x="123.1" y="396.7"/>
<use href="#m_di" x="126.6" y="394.5"/>
<use href="#m_di" x="130.1" y="392.2"/>
<use href="#m_di" x="133.7" y="389.5"/>
<use href="#m_di" x="137.9" y="387.2"/>
<use href="#m_di" x="141.8" y="384.2"/>
<use href="#m_di" x="146.1" y="381.3"/>
<use href="#m_di" x="150.7" y="378.8"/>
<use href="#m_di" x="155.4" y="375.8"/>
<use href="#m_di" x="160.6" y="372.6"/>
<use href="#m_di" x="166.3" y="369.4"/>
<use href="#m_di" x="171.5" y="366.1"/>
<use href="#m_di" x="177.5" y="363.0"/>
<use href="#m_di" x="183.5" y="359.9"/>
<use href="#m_di" x="190.1" y="356.7"/>
<use href="#m_di" x="197.3" y="353.1"/>
<use href="#m_di" x="204.3" y="349.8"/>
<use href="#m_di" x="211.5" y="346.8"/>
<use href="#m_di" x="219.4" y="343.5"/>
<use href="#m_di" x="227.3" y="340.3"/>
<use href="#m_di" x="235.6" y="337.1"/>
<use href="#m_di" x="244.1" y="334.4"/>
<use href="#m_di" x="253.0" y="331.3"/>
<use href="#m_di" x="262.3" y="328.7"/>
<use href="#m_di" x="271.7" y="325.9"/>
<use href="#m_di" x="281.4" y="323.2"/>
<use href="#m_di" x="291.4" y="320.5"/>
<use href="#m_di" x="301.6" y="317.9"/>
<use href="#m_di" x="312.5" y="316.2"/>
<use href="#m_di" x="323.5" y="314.3"/>
<use href="#m_di" x="335.1" y="312.7"/>
<use href="#m_di" x="346.8" y="312.0"/>
<use href="#m_di" x="358.8" y="311.1"/>
<use href="#m_di" x="370.8" y="311.3"/>
<use href="#m_di" x="382.9" y="311.4"/>
<use href="#m_di" x="395.6" y="312.6"/>
<use href="#m_di" x="407.8" y="314.7"/>
<use href="#m_di" x="419.3" y="317.4"/>
<use href="#m_di" x="431.2" y="320.2"/>
<use href="#m_di" x="442.5" y="324.2"/>
<use href="#m_di" x="452.8" y="328.5"/>
<use href="#m_di" x="463.2" y="333.1"/>
<use href="#m_di" x="472.3" y="338.6"/>
<use href="#m_di" x="480.9" y="343.6"/>
<use href="#m_di" x="489.2" y="348.9"/>
<use href="#m_di" x="496.4" y="354.6"/>
<use href="#m_di" x="502.9" y="360.2"/>
<use href="#m_di" x="509.1" y="365.8"/>
<use href="#m_di" x="514.0" y="370.9"/>
<use href="#m_di" x="519.4" y="376.1"/>
<use href="#m_di" x="523.3" y="381.1"/>
<use href="#m_di" x="527.3" y="385.8"/>
<use href="#m_di" x="530.6" y="390.1"/>
<use href="#m_di" x="533.8" y="394.2"/>
<use href="#m_di" x="536.5" y="398.2"/>
<use href="#m_di" x="538.7" y="401.7"/>
<use href="#m_di" x="541.0" y="405.0"/>
<use href="#m_di" x="542.8" y="408.0"/>
<use href="#m_di" x="544.4" y="411.1"/>
<use href="#m_di" x="546.1" y="413.7"/>
<use href="#m_di" x="547.3" y="416.1"/>
<use href="#m_di" x="548.6" y="418.1"/>
<use href="#m_di" x="550.0" y="419.9"/>
<use href="#m_di" x="550.9" y="421.6"/>
<use href="#m_di" x="552.0" y="423.3"/>
<use href="#m_di" x="552.8" y="424.5"/>
<use href="#m_di" x="553.4" y="425.8"/>
<use href="#m_di" x="554.1" y="426.5"/>
<use href="#m_di" x="555.0" y="427.5"/>
<use href="#m_di" x="555.9" y="428.1"/>
<use href="#m_di" x="556.6" y="428.8"/>
<use href="#m_di" x="557.1" y="429.1"/>
<use href="#m_di" x="558.1" y="429.4"/>
<use href="#m_di" x="558.3" y="429.2"/>
<use href="#m_di" x="559.1" y="429.3"/>
<use href="#m_di" x="560.0" y="429.3"/>
<use href="#m_di" x="561.0" y="429.1"/>
<use href="#m_di" x="561.4" y="428.7"/>
<use href="#m_di" x="562.0" y="428.0"/>
<use href="#m_di" x="563.0" y="427.2"/>
<use href="#m_di" x="563.8" y="426.8"/>
<use href="#m_di" x="564.7" y="425.8"/>
<use href="#m_di" x="565.4" y="424.6"/>
<use href="#m_di" x="566.3" y="423.5"/>
<use href="#m_di" x="567.5" y="422.3"/>
<use href="#m_di" x="568.6" y="420.5"/>
<use href="#m_di" x="569.9" y="418.7"/>
<use href="#m_di" x="571.3" y="417.2"/>
<use href="#m_di" x="572.2" y="414.8"/>
<use href="#m_di" x="573.6" y="412.4"/>
<use href="#m_di" x="575.2" y="410.0"/>
<use href="#m_di" x="576.9" y="407.4"/>
<use href="#m_di" x="578.7" y="404.1"/>
<use href="#m_di" x="580.7" y="401.1"/>
<use href="#m_di" x="582.7" y="397.8"/>
<use href="#m_di" x="585.1" y="393.7"/>
<use href="#m_di" x="587.2" y="389.9"/>
<use href="#m_di" x="589.7" y="385.1"/>
<use href="#m_di" x="592.4" y="380.6"/>
<use href="#m_di" x="595.5" y="375.0"/>
<use href="#m_di" x="598.7" y="369.5"/>
<use href="#m_di" x="602.1" y="363.1"/>
<use href="#m_di" x="606.3" y="356.5"/>
<use href="#m_di" x="610.3" y="349.3"/>
</g>
<polyline points="103.5,410.7 103.9,410.4 104.4,410.1 104.8,409.7 105.3,409.4 105.7,409.1 106.2,408.8 106.6,408.4 107.1,408.1 107.6,407.8 108.0,407.4 108.5,407.1 109.0,406.8 109.5,406.4 109.9,406.1 110.4,405.7 110.9,405.4 111.4,405.0 111.9,404.7 112.4,404.3 113.0,403.9 113.5,403.6 114.0,403.2 114.5,402.8 115.1,402.4 115.6,402.1 116.1,401.7 116.7,401.3 117.2,400.9 117.8,400.5 118.4,400.1 118.9,399.7 119.5,399.3 120.1,398.9 120.7,398.5 121.2,398.1 121.8,397.7 122.4,397.3 123.0,396.9 123.6,396.5 124.3,396.1 124.9,395.6 125.5,395.2 126.1,394.8 126.8,394.3 127.4,393.9 128.1,393.5 128.7,393.0 129.4,392.6 130.1,392.1 130.7,391.7 131.4,391.2 132.1,390.8 132.8,390.3 133.5,389.8 134.2,389.4 134.9,388.9 135.6,388.4 136.3,387.9 137.1,387.5 137.8,387.0 138.6,386.5 139.3,386.0 140.1,385.5 140.8,385.0 141.6,384.5 142.4,384.0 143.2,383.5 144.0,383.0 144.8,382.5 145.6,382.0 146.4,381.4 147.2,380.9 148.1,380.4 148.9,379.9 149.7,379.3 150.6,378.8 151.5,378.3 152.3,377.7 153.2,377.2 154.1,376.6 155.0,376.1 155.9,375.5 156.8,375.0 157.7,374.4 158.7,373.9 159.6,373.3 160.6,372.7 161.5,372.2 162.5,371.6 163.4,371.0 164.4,370.4 165.4,369.9 166.4,369.3 167.4,368.7 168.5,368.1 169.5,367.5 170.5,366.9 171.6,366.3 172.7,365.7 173.7,365.2 174.8,364.6 175.9,364.0 177.0,363.4 178.1,362.8 179.2,362.2 180.4,361.6 181.5,360.9 182.7,360.3 183.8,359.7 185.0,359.1 186.2,358.5 187.4,357.9 188.6,357.3 189.8,356.7 191.0,356.1 192.2,355.5 193.5,354.9 194.8,354.3 196.0,353.7 197.3,353.1 198.6,352.5 199.9,351.9 201.2,351.3 202.5,350.6 203.8,350.0 205.2,349.4 206.5,348.9 207.9,348.3 209.3,347.7 210.7,347.1 212.0,346.5 213.4,345.9 214.9,345.3 216.3,344.7 217.7,344.1 219.2,343.5 220.6,343.0 222.1,342.4 223.5,341.8 225.0,341.2 226.5,340.7 228.0,340.1 229.5,339.5 231.0,339.0 232.6,338.4 234.1,337.8 235.6,337.3 237.2,336.7 238.8,336.2 240.3,335.6 241.9,335.1 243.5,334.5 245.1,334.0 246.7,333.5 248.3,332.9 250.0,332.4 251.6,331.9 253.2,331.3 254.9,330.8 256.6,330.3 258.2,329.8 259.9,329.3 261.6,328.8 263.3,328.2 265.0,327.7 266.8,327.2 268.5,326.7 270.2,326.2 272.0,325.7 273.8,325.3 275.5,324.8 277.3,324.3 279.1,323.8 280.9,323.3 282.7,322.9 284.6,322.4 286.4,321.9 288.2,321.5 290.1,321.0 292.0,320.6 293.9,320.1 295.8,319.7 297.7,319.3 299.6,318.8 301.5,318.4 303.5,318.0 305.4,317.6 307.4,317.2 309.3,316.8 311.3,316.5 313.3,316.1 315.3,315.7 317.4,315.4 319.4,315.1 321.5,314.7 323.5,314.4 325.6,314.1 327.7,313.8 329.8,313.5 331.9,313.3 334.0,313.0 336.1,312.8 338.2,312.5 340.4,312.3 342.5,312.1 344.7,311.9 346.9,311.8 349.1,311.6 351.2,311.5 353.4,311.4 355.6,311.3 357.9,311.2 360.1,311.1 362.3,311.1 364.5,311.1 366.8,311.1 369.0,311.1 371.3,311.1 373.5,311.2 375.8,311.2 378.0,311.3 380.3,311.5 382.5,311.6 384.8,311.8 387.1,312.0 389.3,312.2 391.6,312.4 393.8,312.7 396.1,312.9 398.3,313.2 400.5,313.6 402.8,313.9 405.0,314.3 407.2,314.7 409.5,315.1 411.7,315.5 413.9,316.0 416.0,316.5 418.2,317.0 420.4,317.5 422.5,318.0 424.7,318.6 426.8,319.2 428.9,319.8 431.0,320.4 433.1,321.1 435.2,321.7 437.3,322.4 439.3,323.1 441.3,323.9 443.3,324.6 445.3,325.4 447.3,326.1 449.2,326.9 451.2,327.7 453.1,328.6 454.9,329.4 456.8,330.2 458.7,331.1 460.5,332.0 462.3,332.9 464.1,333.8 465.8,334.7 467.6,335.6 469.3,336.6 471.0,337.5 472.6,338.5 474.3,339.4 475.9,340.4 477.5,341.4 479.1,342.4 480.6,343.3 482.1,344.3 483.7,345.3 485.1,346.3 486.6,347.4 488.0,348.4 489.4,349.4 490.8,350.4 492.2,351.4 493.5,352.4 494.8,353.5 496.1,354.5 497.4,355.5 498.6,356.5 499.9,357.5 501.1,358.6 502.2,359.6 503.4,360.6 504.5,361.6 505.7,362.6 506.8,363.6 507.8,364.6 508.9,365.6 509.9,366.6 510.9,367.6 511.9,368.6 512.9,369.5 513.8,370.5 514.8,371.5 515.7,372.4 516.6,373.4 517.5,374.3 518.3,375.3 519.2,376.2 520.0,377.1 520.8,378.0 521.6,378.9 522.4,379.8 523.1,380.7 523.9,381.6 524.6,382.5 525.3,383.4 526.0,384.2 526.7,385.1 527.4,385.9 528.0,386.7 528.7,387.6 529.3,388.4 529.9,389.2 530.5,390.0 531.1,390.8 531.7,391.5 532.2,392.3 532.8,393.1 533.3,393.8 533.8,394.6 534.4,395.3 534.9,396.0 535.4,396.7 535.8,397.4 536.3,398.1 536.8,398.8 537.2,399.5 537.7,400.2 538.1,400.8 538.5,401.5 538.9,402.1 539.4,402.7 539.8,403.4 540.1,404.0 540.5,404.6 540.9,405.2 541.3,405.8 541.6,406.3 542.0,406.9 542.3,407.5 542.7,408.0 543.0,408.5 543.3,409.1 543.6,409.6 544.0,410.1 544.3,410.6 544.6,411.1 544.9,411.6 545.1,412.1 545.4,412.6 545.7,413.0 546.0,413.5 546.2,413.9 546.5,414.4 546.8,414.8 547.0,415.2 547.3,415.7 547.5,416.1 547.7,416.5 548.0,416.9 548.2,417.3 548.4,417.6 548.7,418.0 548.9,418.4 549.1,418.7 549.3,419.1 549.5,419.4 549.7,419.8 549.9,420.1 550.1,420.4 550.3,420.7 550.5,421.1 550.7,421.4 550.9,421.7 551.1,421.9 551.2,422.2 551.4,422.5 551.6,422.8 551.8,423.0 551.9,423.3 552.1,423.6 552.3,423.8 552.4,424.0 552.6,424.3 552.7,424.5 552.9,424.7 553.1,424.9 553.2,425.2 553.4,425.4 553.5,425.6 553.7,425.8 553.8,425.9 554.0,426.1 554.1,426.3 554.2,426.5 554.4,426.7 554.5,426.8 554.7,427.0 554.8,427.1 554.9,427.3 555.1,427.4 555.2,427.5 555.3,427.7 555.5,427.8 555.6,427.9 555.7,428.0 555.9,428.2 556.0,428.3 556.1,428.4 556.3,428.5 556.4,428.5 556.5,428.6 556.6,428.7 556.8,428.8 556.9,428.9 557.0,428.9 557.1,429.0 557.3,429.1 557.4,429.1 557.5,429.2 557.6,429.2 557.8,429.3 557.9,429.3 558.0,429.3 558.1,429.3 558.3,429.4 558.4,429.4 558.5,429.4 558.6,429.4 558.8,429.4 558.9,429.4 559.0,429.4 559.1,429.4 559.2,429.4 559.4,429.4 559.5,429.4 559.6,429.3 559.8,429.3 559.9,429.3 560.0,429.2 560.1,429.2 560.3,429.1 560.4,429.1 560.5,429.0 560.7,429.0 560.8,428.9 560.9,428.9 561.0,428.8 561.2,428.7 561.3,428.6 561.4,428.5 561.6,428.4 561.7,428.4 561.9,428.3 562.0,428.2 562.1,428.0 562.3,427.9 562.4,427.8 562.6,427.7 562.7,427.6 562.9,427.4 563.0,427.3 563.1,427.2 563.3,427.0 563.4,426.9 563.6,426.7 563.7,426.6 563.9,426.4 564.1,426.3 564.2,426.1 564.4,425.9 564.5,425.7 564.7,425.5 564.9,425.4 565.0,425.2 565.2,425.0 565.4,424.8 565.5,424.5 565.7,424.3 565.9,424.1 566.1,423.9 566.2,423.7 566.4,423.4 566.6,423.2 566.8,422.9 567.0,422.7 567.2,422.4 567.4,422.2 567.5,421.9 567.7,421.6 567.9,421.4 568.1,421.1 568.3,420.8 568.5,420.5 568.8,420.2 569.0,419.9 569.2,419.6 569.4,419.3 569.6,418.9 569.8,418.6 570.1,418.3 570.3,417.9 570.5,417.6 570.7,417.2 571.0,416.9 571.2,416.5 571.5,416.1 571.7,415.8 572.0,415.4 572.2,415.0 572.5,414.6 572.7,414.2 573.0,413.8 573.2,413.3 573.5,412.9 573.8,412.5 574.0,412.0 574.3,411.6 574.6,411.1 574.9,410.7 575.2,410.2 575.5,409.7 575.8,409.2 576.1,408.7 576.4,408.2 576.7,407.7 577.0,407.2 577.3,406.7 577.6,406.1 578.0,405.6 578.3,405.0 578.6,404.5 579.0,403.9 579.3,403.3 579.7,402.7 580.0,402.1 580.4,401.5 580.8,400.9 581.1,400.3 581.5,399.7 581.9,399.0 582.3,398.4 582.6,397.7 583.0,397.0 583.4,396.3 583.9,395.6 584.3,394.9 584.7,394.2 585.1,393.5 585.5,392.7 586.0,392.0 586.4,391.2 586.9,390.5 587.3,389.7 587.8,388.9 588.2,388.1 588.7,387.2 589.2,386.4 589.7,385.6 590.2,384.7 590.7,383.8 591.2,382.9 591.7,382.0 592.2,381.1 592.8,380.2 593.3,379.3 593.8,378.3 594.4,377.3 595.0,376.4 595.5,375.4 596.1,374.4 596.7,373.3 597.3,372.3 597.9,371.2 598.5,370.2 599.1,369.1 599.7,368.0 600.4,366.9 601.0,365.7 601.7,364.6 602.3,363.4 603.0,362.2 603.7,361.0 604.4,359.8 605.1,358.6 605.8,357.3 606.5,356.0 607.2,354.7 608.0,353.4 608.7,352.1 609.5,350.7 610.3,349.4" fill="none" stroke="#C4071B" stroke-width="3" stroke-linejoin="round"/>
<g fill="#fff" stroke="#F9BA00" stroke-width="1.3">
<use href="#m_up" x="162.6" y="405.6"/>
<use href="#m_up" x="165.7" y="404.0"/>
<use href="#m_up" x="168.3" y="402.1"/>
<use href="#m_up" x="171.8" y="400.3"/>
<use href="#m_up" x="175.2" y="398.0"/>
<use href="#m_up" x="178.7" y="396.4"/>
<use href="#m_up" x="182.4" y="394.5"/>
<use href="#m_up" x="186.7" y="392.6"/>
<use href="#m_up" x="190.2" y="390.5"/>
<use href="#m_up" x="194.5" y="388.5"/>
<use href="#m_up" x="198.9" y="386.4"/>
<use href="#m_up" x="203.7" y="384.4"/>
<use href="#m_up" x="208.0" y="382.3"/>
<use href="#m_up" x="213.5" y="380.5"/>
<use href="#m_up" x="218.4" y="378.4"/>
<use href="#m_up" x="223.5" y="376.5"/>
<use href="#m_up" x="229.3" y="375.0"/>
<use href="#m_up" x="235.2" y="373.1"/>
<use href="#m_up" x="241.2" y="371.4"/>
<use href="#m_up" x="247.2" y="370.0"/>
<use href="#m_up" x="253.6" y="368.6"/>
<use href="#m_up" x="259.9" y="367.5"/>
<use href="#m_up" x="266.5" y="365.8"/>
<use href="#m_up" x="272.9" y="365.1"/>
<use href="#m_up" x="280.2" y="364.3"/>
<use href="#m_up" x="287.2" y="363.4"/>
<use href="#m_up" x="294.1" y="363.3"/>
<use href="#m_up" x="301.1" y="362.6"/>
<use href="#m_up" x="308.5" y="362.8"/>
<use href="#m_up" x="316.3" y="363.1"/>
<use href="#m_up" x="323.3" y="363.8"/>
<use href="#m_up" x="330.6" y="364.9"/>
<use href="#m_up" x="337.7" y="366.3"/>
<use href="#m_up" x="345.0" y="367.4"/>
<use href="#m_up" x="351.7" y="369.6"/>
<use href="#m_up" x="358.3" y="371.8"/>
<use href="#m_up" x="364.5" y="374.0"/>
<use href="#m_up" x="370.8" y="377.0"/>
<use href="#m_up" x="376.7" y="379.8"/>
<use href="#m_up" x="381.8" y="382.8"/>
<use href="#m_up" x="387.0" y="385.8"/>
<use href="#m_up" x="391.5" y="389.1"/>
<use href="#m_up" x="395.7" y="392.2"/>
<use href="#m_up" x="399.6" y="395.1"/>
<use href="#m_up" x="403.1" y="398.3"/>
<use href="#m_up" x="406.5" y="401.9"/>
<use href="#m_up" x="409.3" y="404.7"/>
<use href="#m_up" x="411.8" y="407.1"/>
<use href="#m_up" x="414.3" y="409.9"/>
<use href="#m_up" x="416.4" y="412.5"/>
<use href="#m_up" x="418.4" y="414.7"/>
<use href="#m_up" x="420.1" y="417.4"/>
<use href="#m_up" x="421.7" y="419.1"/>
<use href="#m_up" x="422.8" y="421.2"/>
<use href="#m_up" x="424.4" y="423.0"/>
<use href="#m_up" x="425.6" y="424.7"/>
<use href="#m_up" x="426.3" y="426.2"/>
<use href="#m_up" x="427.7" y="427.8"/>
<use href="#m_up" x="428.3" y="429.2"/>
<use href="#m_up" x="429.0" y="430.2"/>
<use href="#m_up" x="429.5" y="431.4"/>
<use href="#m_up" x="430.6" y="432.6"/>
<use href="#m_up" x="430.9" y="433.1"/>
<use href="#m_up" x="431.5" y="433.9"/>
<use href="#m_up" x="432.2" y="434.5"/>
<use href="#m_up" x="432.5" y="435.3"/>
<use href="#m_up" x="432.9" y="435.8"/>
<use href="#m_up" x="433.4" y="436.4"/>
<use href="#m_up" x="433.9" y="436.8"/>
<use href="#m_up" x="434.5" y="436.9"/>
<use href="#m_up" x="434.8" y="437.1"/>
<use href="#m_up" x="435.2" y="437.4"/>
<use href="#m_up" x="435.5" y="437.1"/>
<use href="#m_up" x="436.0" y="437.6"/>
<use href="#m_up" x="436.3" y="437.5"/>
<use href="#m_up" x="437.1" y="437.3"/>
<use href="#m_up" x="437.2" y="436.8"/>
<use href="#m_up" x="437.3" y="436.8"/>
<use href="#m_up" x="437.9" y="436.5"/>
<use href="#m_up" x="438.8" y="436.2"/>
<use href="#m_up" x="438.8" y="435.7"/>
<use href="#m_up" x="439.4" y="435.2"/>
<use href="#m_up" x="440.1" y="434.2"/>
<use href="#m_up" x="440.4" y="433.6"/>
<use href="#m_up" x="441.4" y="432.7"/>
<use href="#m_up" x="442.1" y="432.1"/>
<use href="#m_up" x="442.4" y="430.7"/>
<use href="#m_up" x="443.4" y="430.1"/>
<use href="#m_up" x="443.9" y="429.1"/>
<use href="#m_up" x="444.7" y="427.5"/>
<use href="#m_up" x="445.8" y="426.1"/>
<use href="#m_up" x="446.7" y="424.4"/>
<use href="#m_up" x="447.6" y="423.0"/>
<use href="#m_up" x="448.9" y="421.0"/>
<use href="#m_up" x="449.8" y="418.8"/>
<use href="#m_up" x="451.1" y="417.1"/>
<use href="#m_up" x="452.5" y="414.7"/>
<use href="#m_up" x="454.3" y="412.3"/>
<use href="#m_up" x="455.9" y="409.3"/>
<use href="#m_up" x="457.6" y="406.2"/>
<use href="#m_up" x="459.1" y="403.0"/>
<use href="#m_up" x="461.4" y="399.6"/>
<use href="#m_up" x="463.6" y="395.7"/>
<use href="#m_up" x="465.6" y="391.9"/>
<use href="#m_up" x="468.3" y="387.3"/>
<use href="#m_up" x="471.2" y="382.9"/>
<use href="#m_up" x="474.2" y="377.7"/>
<use href="#m_up" x="477.3" y="372.0"/>
<use href="#m_up" x="480.8" y="366.2"/>
<use href="#m_up" x="484.4" y="359.5"/>
<use href="#m_up" x="488.4" y="352.4"/>
</g>
<polyline points="162.6,405.6 163.1,405.3 163.7,405.0 164.2,404.6 164.7,404.3 165.3,404.0 165.8,403.7 166.4,403.4 166.9,403.0 167.5,402.7 168.1,402.4 168.6,402.0 169.2,401.7 169.8,401.4 170.4,401.0 171.0,400.7 171.6,400.4 172.2,400.0 172.8,399.7 173.4,399.3 174.0,399.0 174.6,398.7 175.3,398.3 175.9,398.0 176.5,397.6 177.2,397.3 177.8,396.9 178.5,396.5 179.1,396.2 179.8,395.8 180.5,395.5 181.2,395.1 181.8,394.8 182.5,394.4 183.2,394.0 183.9,393.7 184.6,393.3 185.3,392.9 186.1,392.6 186.8,392.2 187.5,391.8 188.3,391.5 189.0,391.1 189.8,390.7 190.5,390.3 191.3,390.0 192.1,389.6 192.8,389.2 193.6,388.8 194.4,388.5 195.2,388.1 196.0,387.7 196.8,387.4 197.6,387.0 198.5,386.6 199.3,386.2 200.1,385.9 201.0,385.5 201.8,385.1 202.7,384.7 203.5,384.4 204.4,384.0 205.3,383.6 206.2,383.3 207.1,382.9 207.9,382.5 208.8,382.2 209.8,381.8 210.7,381.4 211.6,381.1 212.5,380.7 213.5,380.3 214.4,380.0 215.4,379.6 216.3,379.3 217.3,378.9 218.2,378.6 219.2,378.2 220.2,377.9 221.2,377.5 222.2,377.2 223.2,376.8 224.2,376.5 225.2,376.2 226.2,375.8 227.2,375.5 228.3,375.2 229.3,374.9 230.4,374.5 231.4,374.2 232.5,373.9 233.5,373.6 234.6,373.3 235.7,373.0 236.7,372.7 237.8,372.3 238.9,372.0 240.0,371.8 241.1,371.5 242.2,371.2 243.3,370.9 244.5,370.6 245.6,370.3 246.7,370.0 247.9,369.8 249.0,369.5 250.1,369.2 251.3,369.0 252.4,368.7 253.6,368.5 254.8,368.2 255.9,368.0 257.1,367.7 258.3,367.5 259.5,367.3 260.7,367.0 261.9,366.8 263.1,366.6 264.3,366.4 265.5,366.2 266.7,366.0 268.0,365.8 269.2,365.6 270.4,365.4 271.7,365.2 272.9,365.0 274.2,364.9 275.4,364.7 276.7,364.5 277.9,364.4 279.2,364.2 280.5,364.1 281.7,363.9 283.0,363.8 284.3,363.7 285.6,363.6 286.9,363.5 288.2,363.4 289.5,363.3 290.8,363.2 292.1,363.1 293.4,363.0 294.7,363.0 296.1,362.9 297.4,362.9 298.7,362.8 300.0,362.8 301.4,362.8 302.7,362.8 304.0,362.8 305.4,362.8 306.7,362.8 308.1,362.8 309.4,362.8 310.8,362.9 312.1,362.9 313.4,363.0 314.8,363.1 316.1,363.2 317.5,363.2 318.8,363.4 320.2,363.5 321.5,363.6 322.9,363.7 324.2,363.9 325.6,364.0 326.9,364.2 328.2,364.4 329.6,364.6 330.9,364.8 332.2,365.0 333.6,365.2 334.9,365.5 336.2,365.7 337.5,366.0 338.8,366.2 340.1,366.5 341.4,366.8 342.7,367.1 344.0,367.4 345.3,367.7 346.6,368.1 347.8,368.4 349.1,368.7 350.4,369.1 351.6,369.5 352.8,369.9 354.1,370.3 355.3,370.7 356.5,371.1 357.7,371.5 358.9,371.9 360.1,372.3 361.3,372.8 362.4,373.2 363.6,373.7 364.7,374.2 365.9,374.6 367.0,375.1 368.1,375.6 369.2,376.1 370.3,376.6 371.4,377.1 372.4,377.6 373.5,378.2 374.5,378.7 375.6,379.2 376.6,379.8 377.6,380.3 378.6,380.9 379.6,381.4 380.5,382.0 381.5,382.5 382.4,383.1 383.4,383.6 384.3,384.2 385.2,384.8 386.1,385.4 387.0,385.9 387.9,386.5 388.7,387.1 389.6,387.7 390.4,388.2 391.2,388.8 392.0,389.4 392.8,390.0 393.6,390.6 394.4,391.2 395.1,391.7 395.9,392.3 396.6,392.9 397.3,393.5 398.1,394.1 398.8,394.6 399.5,395.2 400.1,395.8 400.8,396.4 401.4,396.9 402.1,397.5 402.7,398.1 403.3,398.6 404.0,399.2 404.6,399.7 405.1,400.3 405.7,400.9 406.3,401.4 406.8,402.0 407.4,402.5 407.9,403.0 408.5,403.6 409.0,404.1 409.5,404.6 410.0,405.2 410.5,405.7 411.0,406.2 411.4,406.7 411.9,407.2 412.4,407.7 412.8,408.2 413.2,408.7 413.7,409.2 414.1,409.7 414.5,410.2 414.9,410.7 415.3,411.1 415.7,411.6 416.1,412.1 416.5,412.5 416.8,413.0 417.2,413.4 417.5,413.9 417.9,414.3 418.2,414.7 418.6,415.2 418.9,415.6 419.2,416.0 419.5,416.4 419.8,416.8 420.1,417.2 420.4,417.6 420.7,418.0 421.0,418.4 421.3,418.8 421.6,419.2 421.9,419.6 422.1,419.9 422.4,420.3 422.6,420.7 422.9,421.0 423.1,421.4 423.4,421.7 423.6,422.1 423.8,422.4 424.1,422.7 424.3,423.1 424.5,423.4 424.7,423.7 424.9,424.0 425.1,424.3 425.3,424.6 425.5,424.9 425.7,425.2 425.9,425.5 426.1,425.8 426.3,426.1 426.5,426.4 426.7,426.6 426.9,426.9 427.0,427.2 427.2,427.4 427.4,427.7 427.5,427.9 427.7,428.2 427.8,428.4 428.0,428.7 428.2,428.9 428.3,429.1 428.5,429.4 428.6,429.6 428.7,429.8 428.9,430.0 429.0,430.3 429.2,430.5 429.3,430.7 429.4,430.9 429.6,431.1 429.7,431.3 429.8,431.5 429.9,431.6 430.1,431.8 430.2,432.0 430.3,432.2 430.4,432.4 430.5,432.5 430.6,432.7 430.8,432.9 430.9,433.0 431.0,433.2 431.1,433.3 431.2,433.5 431.3,433.6 431.4,433.8 431.5,433.9 431.6,434.0 431.7,434.2 431.8,434.3 431.9,434.4 432.0,434.6 432.1,434.7 432.2,434.8 432.3,434.9 432.4,435.0 432.4,435.1 432.5,435.2 432.6,435.3 432.7,435.4 432.8,435.5 432.9,435.6 433.0,435.7 433.1,435.8 433.1,435.9 433.2,436.0 433.3,436.1 433.4,436.2 433.5,436.2 433.5,436.3 433.6,436.4 433.7,436.5 433.8,436.5 433.9,436.6 433.9,436.6 434.0,436.7 434.1,436.8 434.2,436.8 434.2,436.9 434.3,436.9 434.4,437.0 434.5,437.0 434.6,437.0 434.6,437.1 434.7,437.1 434.8,437.2 434.8,437.2 434.9,437.2 435.0,437.2 435.1,437.3 435.1,437.3 435.2,437.3 435.3,437.3 435.4,437.4 435.4,437.4 435.5,437.4 435.6,437.4 435.6,437.4 435.7,437.4 435.8,437.4 435.9,437.4 435.9,437.4 436.0,437.4 436.1,437.4 436.2,437.4 436.2,437.4 436.3,437.4 436.4,437.3 436.5,437.3 436.5,437.3 436.6,437.3 436.7,437.3 436.7,437.2 436.8,437.2 436.9,437.2 437.0,437.1 437.1,437.1 437.1,437.1 437.2,437.0 437.3,437.0 437.4,436.9 437.4,436.9 437.5,436.8 437.6,436.8 437.7,436.7 437.8,436.7 437.8,436.6 437.9,436.5 438.0,436.5 438.1,436.4 438.2,436.3 438.2,436.3 438.3,436.2 438.4,436.1 438.5,436.0 438.6,436.0 438.7,435.9 438.8,435.8 438.9,435.7 438.9,435.6 439.0,435.5 439.1,435.4 439.2,435.3 439.3,435.2 439.4,435.1 439.5,435.0 439.6,434.9 439.7,434.8 439.8,434.7 439.9,434.6 440.0,434.5 440.1,434.3 440.2,434.2 440.3,434.1 440.4,433.9 440.5,433.8 440.6,433.7 440.7,433.5 440.8,433.4 440.9,433.3 441.0,433.1 441.1,433.0 441.3,432.8 441.4,432.6 441.5,432.5 441.6,432.3 441.7,432.2 441.8,432.0 442.0,431.8 442.1,431.6 442.2,431.5 442.3,431.3 442.5,431.1 442.6,430.9 442.7,430.7 442.9,430.5 443.0,430.3 443.1,430.1 443.3,429.9 443.4,429.7 443.5,429.5 443.7,429.3 443.8,429.1 444.0,428.8 444.1,428.6 444.3,428.4 444.4,428.1 444.6,427.9 444.7,427.7 444.9,427.4 445.0,427.2 445.2,426.9 445.4,426.6 445.5,426.4 445.7,426.1 445.9,425.8 446.0,425.6 446.2,425.3 446.4,425.0 446.6,424.7 446.8,424.4 446.9,424.1 447.1,423.8 447.3,423.5 447.5,423.2 447.7,422.9 447.9,422.5 448.1,422.2 448.3,421.9 448.5,421.5 448.7,421.2 448.9,420.9 449.1,420.5 449.4,420.1 449.6,419.8 449.8,419.4 450.0,419.0 450.3,418.6 450.5,418.3 450.7,417.9 451.0,417.5 451.2,417.1 451.4,416.6 451.7,416.2 451.9,415.8 452.2,415.4 452.5,414.9 452.7,414.5 453.0,414.0 453.3,413.6 453.5,413.1 453.8,412.6 454.1,412.2 454.4,411.7 454.7,411.2 454.9,410.7 455.2,410.2 455.5,409.7 455.8,409.2 456.2,408.6 456.5,408.1 456.8,407.5 457.1,407.0 457.4,406.4 457.8,405.9 458.1,405.3 458.4,404.7 458.8,404.1 459.1,403.5 459.5,402.9 459.9,402.3 460.2,401.6 460.6,401.0 461.0,400.3 461.4,399.7 461.7,399.0 462.1,398.3 462.5,397.7 462.9,397.0 463.3,396.2 463.8,395.5 464.2,394.8 464.6,394.1 465.0,393.3 465.5,392.6 465.9,391.8 466.4,391.0 466.8,390.2 467.3,389.4 467.8,388.6 468.2,387.8 468.7,386.9 469.2,386.1 469.7,385.2 470.2,384.3 470.7,383.4 471.2,382.5 471.8,381.6 472.3,380.7 472.8,379.7 473.4,378.8 473.9,377.8 474.5,376.8 475.1,375.8 475.7,374.8 476.2,373.8 476.8,372.8 477.5,371.7 478.1,370.6 478.7,369.6 479.3,368.4 480.0,367.3 480.6,366.2 481.3,365.0 481.9,363.9 482.6,362.7 483.3,361.5 484.0,360.3 484.7,359.0 485.4,357.8 486.2,356.5 486.9,355.2 487.6,353.9 488.4,352.6" fill="none" stroke="#F9BA00" stroke-width="3" stroke-linejoin="round"/>
</g>
<rect x="80.5" y="2.5" width="888.5" height="444.8" fill="none" stroke="#000" stroke-width="5"/>
<text transform="translate(80.50,488.30) scale(1,1.04)" font-size="35.8" text-anchor="middle" >2</text>
<text transform="translate(179.22,488.30) scale(1,1.04)" font-size="35.8" text-anchor="middle" >3</text>
<text transform="translate(277.94,488.30) scale(1,1.04)" font-size="35.8" text-anchor="middle" >4</text>
<text transform="translate(376.67,488.30) scale(1,1.04)" font-size="35.8" text-anchor="middle" >5</text>
<text transform="translate(475.39,488.30) scale(1,1.04)" font-size="35.8" text-anchor="middle" >6</text>
<text transform="translate(574.11,488.30) scale(1,1.04)" font-size="35.8" text-anchor="middle" >7</text>
<text transform="translate(672.83,488.30) scale(1,1.04)" font-size="35.8" text-anchor="middle" >8</text>
<text transform="translate(771.56,488.30) scale(1,1.04)" font-size="35.8" text-anchor="middle" >9</text>
<text transform="translate(870.28,488.30) scale(1,1.04)" font-size="35.8" text-anchor="middle" >10</text>
<text transform="translate(969.00,488.30) scale(1,1.04)" font-size="35.8" text-anchor="middle" >11</text>
<text transform="translate(69.00,460.20) scale(1,1.04)" font-size="35.8" text-anchor="end" >0</text>
<text transform="translate(69.00,361.27) scale(1,1.04)" font-size="35.8" text-anchor="end" >1</text>
<text transform="translate(69.00,262.35) scale(1,1.04)" font-size="35.8" text-anchor="end" >2</text>
<text transform="translate(69.00,163.43) scale(1,1.04)" font-size="35.8" text-anchor="end" >3</text>
<text transform="translate(69.00,64.50) scale(1,1.04)" font-size="35.8" text-anchor="end" >4</text>
<text transform="translate(513.00,527.50) scale(1,1.04)" font-size="35.8" text-anchor="middle" >Re(Z) [Ω cm<tspan dy="-13" font-size="24.34">2</tspan><tspan dy="13">]</tspan></text>
<text transform="translate(34.3,202) rotate(-90) scale(1,1.04)" font-size="35.80" text-anchor="middle">-Im(Z) [Ω cm<tspan dy="-13" font-size="24.34">2</tspan><tspan dy="13">]</tspan></text>
<text transform="translate(110.00,51.00) scale(1,1.04)" font-size="35.8" text-anchor="start" >a)</text>
<rect x="198" y="22.5" width="639" height="159" fill="#fff" stroke="#000" stroke-width="3"/>
<rect x="227.6" y="38.7" width="12.6" height="12.6" fill="none" stroke="#005293" stroke-width="1.4"/>
<text transform="translate(268.00,56.30) scale(1,1.04)" font-size="31.0" text-anchor="start" >LP57</text>
<line x1="209.30" y1="84.60" x2="259.00" y2="84.60" stroke="#005293" stroke-width="3" />
<text transform="translate(268.00,95.60) scale(1,1.04)" font-size="31.0" text-anchor="start" >Fit (LP57)</text>
<path d="M234.4 115.2l8.8 8.8l-8.8 8.8l-8.8-8.8z" fill="none" stroke="#C4071B" stroke-width="1.4"/>
<text transform="translate(268.00,135.00) scale(1,1.04)" font-size="31.0" text-anchor="start" >+1% VC</text>
<line x1="209.30" y1="163.30" x2="259.00" y2="163.30" stroke="#C4071B" stroke-width="3" />
<text transform="translate(268.00,174.30) scale(1,1.04)" font-size="31.0" text-anchor="start" >Fit (+1% VC)</text>
<path d="M569.1 36.43000000000001l8 13.9h-16z" fill="none" stroke="#F9BA00" stroke-width="1.4"/>
<text transform="translate(603.00,56.30) scale(1,1.04)" font-size="31.0" text-anchor="start" >+1% FEC</text>
<line x1="544.50" y1="84.60" x2="594.00" y2="84.60" stroke="#F9BA00" stroke-width="3" />
<text transform="translate(603.00,95.60) scale(1,1.04)" font-size="31.0" text-anchor="start" >Fit (+1% FEC)</text>
<path d="M569.1 133.07l8 -13.9h-16z" fill="none" stroke="#679A1D" stroke-width="1.4"/>
<text transform="translate(603.00,135.00) scale(1,1.04)" font-size="31.0" text-anchor="start" >+1% DiFEC</text>
<line x1="544.50" y1="163.30" x2="594.00" y2="163.30" stroke="#679A1D" stroke-width="3" />
<text transform="translate(603.00,174.30) scale(1,1.04)" font-size="31.0" text-anchor="start" >Fit (+1% DiFEC)</text>
<line x1="68.00" y1="593.20" x2="145.00" y2="593.20" stroke="#000" stroke-width="5" />
<polyline points="169.2,567.6 144.0,593.2 169.2,618.8" fill="none" stroke="#000" stroke-width="5" stroke-linejoin="miter"/>
<polyline points="189.5,567.6 163.5,593.2 189.5,618.8" fill="none" stroke="#000" stroke-width="5" stroke-linejoin="miter"/>
<line x1="163.50" y1="593.20" x2="578.00" y2="593.20" stroke="#000" stroke-width="5" />
<line x1="616.40" y1="593.20" x2="782.50" y2="593.20" stroke="#000" stroke-width="5" />
<polyline points="197.9,668.0 197.9,631.8 274.5,631.8 274.5,666.0" fill="none" stroke="#000" stroke-width="5" stroke-linejoin="miter"/>
<polyline points="197.9,688.0 197.9,746.1 274.5,746.1 274.5,716.0" fill="none" stroke="#000" stroke-width="5" stroke-linejoin="miter"/>
<polyline points="173.6,692.3 197.9,668.0 222.2,692.3" fill="none" stroke="#000" stroke-width="5" stroke-linejoin="miter"/>
<polyline points="173.6,711.8 197.9,687.5 222.2,711.8" fill="none" stroke="#000" stroke-width="5" stroke-linejoin="miter"/>
<line x1="235.30" y1="593.20" x2="235.30" y2="631.80" stroke="#000" stroke-width="5" />
<rect x="247.2" y="666.5" width="54.5" height="49" fill="#fff" stroke="#000" stroke-width="2.2"/>
<text transform="translate(248.40,698.80) scale(1,1.04)" font-size="35.8" text-anchor="start" >R<tspan dy="9.6" font-size="23.99">Int</tspan></text>
<text transform="translate(111.30,694.10) scale(1,1.04)" font-size="35.8" text-anchor="start" >Q<tspan dy="9.4" font-size="23.99">Int</tspan></text>
<polyline points="416.4,668.0 416.4,631.8 491.2,631.8 491.2,666.0" fill="none" stroke="#000" stroke-width="5" stroke-linejoin="miter"/>
<polyline points="416.4,688.0 416.4,746.1 491.2,746.1 491.2,716.0" fill="none" stroke="#000" stroke-width="5" stroke-linejoin="miter"/>
<polyline points="392.1,692.3 416.4,668.0 440.7,692.3" fill="none" stroke="#000" stroke-width="5" stroke-linejoin="miter"/>
<polyline points="392.1,711.8 416.4,687.5 440.7,711.8" fill="none" stroke="#000" stroke-width="5" stroke-linejoin="miter"/>
<line x1="452.80" y1="593.20" x2="452.80" y2="631.80" stroke="#000" stroke-width="5" />
<rect x="464.4" y="666.5" width="54.5" height="49" fill="#fff" stroke="#000" stroke-width="2.2"/>
<text transform="translate(465.60,698.80) scale(1,1.04)" font-size="35.8" text-anchor="start" >R<tspan dy="9.6" font-size="23.99">Int</tspan></text>
<text transform="translate(322.60,694.10) scale(1,1.04)" font-size="35.8" text-anchor="start" >Q<tspan dy="9.4" font-size="23.99">Int</tspan></text>
<polyline points="743.0,668.0 743.0,631.8 817.7,631.8 817.7,666.0" fill="none" stroke="#000" stroke-width="5" stroke-linejoin="miter"/>
<polyline points="743.0,688.0 743.0,746.1 817.7,746.1 817.7,716.0" fill="none" stroke="#000" stroke-width="5" stroke-linejoin="miter"/>
<polyline points="718.7,692.3 743.0,668.0 767.3,692.3" fill="none" stroke="#000" stroke-width="5" stroke-linejoin="miter"/>
<polyline points="718.7,711.8 743.0,687.5 767.3,711.8" fill="none" stroke="#000" stroke-width="5" stroke-linejoin="miter"/>
<line x1="780.20" y1="593.20" x2="780.20" y2="631.80" stroke="#000" stroke-width="5" />
<rect x="791.7" y="666.5" width="54.5" height="49" fill="#fff" stroke="#000" stroke-width="2.2"/>
<text transform="translate(792.90,698.80) scale(1,1.04)" font-size="35.8" text-anchor="start" >R<tspan dy="9.6" font-size="23.99">Int</tspan></text>
<text transform="translate(640.20,694.10) scale(1,1.04)" font-size="35.8" text-anchor="start" >Q<tspan dy="9.4" font-size="23.99">Int</tspan></text>
<polyline points="235.8,746.1 235.8,783.7 313.0,783.7" fill="none" stroke="#000" stroke-width="5" stroke-linejoin="miter"/>
<line x1="401.00" y1="783.70" x2="578.00" y2="783.70" stroke="#000" stroke-width="5" />
<line x1="452.80" y1="746.10" x2="452.80" y2="783.70" stroke="#000" stroke-width="5" />
<line x1="616.40" y1="783.70" x2="653.00" y2="783.70" stroke="#000" stroke-width="5" />
<line x1="741.00" y1="783.70" x2="855.00" y2="783.70" stroke="#000" stroke-width="5" />
<line x1="780.20" y1="746.10" x2="780.20" y2="783.70" stroke="#000" stroke-width="5" />
<line x1="935.00" y1="783.70" x2="958.40" y2="783.70" stroke="#000" stroke-width="5" />
<rect x="313.6" y="752.2" width="87.19999999999999" height="55.5" fill="#fff" stroke="#000" stroke-width="2.2"/>
<text transform="translate(318.10,788.50) scale(1,1.04)" font-size="35.8" text-anchor="start" >R<tspan dy="9.6" font-size="23.99">Pore</tspan></text>
<rect x="653.3" y="752.2" width="87.20000000000005" height="55.5" fill="#fff" stroke="#000" stroke-width="2.2"/>
<text transform="translate(657.80,788.50) scale(1,1.04)" font-size="35.8" text-anchor="start" >R<tspan dy="9.6" font-size="23.99">Pore</tspan></text>
<rect x="855" y="752.2" width="79.5" height="55.5" fill="#fff" stroke="#000" stroke-width="2.2"/>
<text transform="translate(859.60,788.50) scale(1,1.04)" font-size="35.8" text-anchor="start" >R<tspan dy="9.6" font-size="23.99">Sep</tspan></text>
<path d="M580.80 572.00C582.27 572.20 587.20 572.13 589.60 573.20C592.00 574.27 594.03 576.47 595.20 578.40C596.37 580.33 596.73 582.27 596.60 584.80C596.47 587.33 595.43 590.93 594.40 593.60C593.37 596.27 591.53 598.53 590.40 600.80C589.27 603.07 587.98 605.47 587.60 607.20C587.22 608.93 587.57 609.80 588.10 611.20C588.63 612.60 589.48 614.27 590.80 615.60C592.12 616.93 595.13 618.60 596.00 619.20L596.00 621.60C594.40 621.07 588.92 619.87 586.40 618.40C583.88 616.93 581.97 614.67 580.90 612.80C579.83 610.93 579.75 609.47 580.00 607.20C580.25 604.93 581.27 601.73 582.40 599.20C583.53 596.67 585.58 594.40 586.80 592.00C588.02 589.60 589.37 586.93 589.70 584.80C590.03 582.67 589.62 580.73 588.80 579.20C587.98 577.67 586.13 576.40 584.80 575.60C583.47 574.80 581.47 574.60 580.80 574.40Z" fill="#000"/>
<path d="M599.60 572.00C601.07 572.20 606.00 572.13 608.40 573.20C610.80 574.27 612.83 576.47 614.00 578.40C615.17 580.33 615.53 582.27 615.40 584.80C615.27 587.33 614.23 590.93 613.20 593.60C612.17 596.27 610.33 598.53 609.20 600.80C608.07 603.07 606.78 605.47 606.40 607.20C606.02 608.93 606.37 609.80 606.90 611.20C607.43 612.60 608.28 614.27 609.60 615.60C610.92 616.93 613.93 618.60 614.80 619.20L614.80 621.60C613.20 621.07 607.72 619.87 605.20 618.40C602.68 616.93 600.77 614.67 599.70 612.80C598.63 610.93 598.55 609.47 598.80 607.20C599.05 604.93 600.07 601.73 601.20 599.20C602.33 596.67 604.38 594.40 605.60 592.00C606.82 589.60 608.17 586.93 608.50 584.80C608.83 582.67 608.42 580.73 607.60 579.20C606.78 577.67 604.93 576.40 603.60 575.60C602.27 574.80 600.27 574.60 599.60 574.40Z" fill="#000"/>
<path d="M580.80 760.20C582.27 760.40 587.20 760.33 589.60 761.40C592.00 762.47 594.03 764.67 595.20 766.60C596.37 768.53 596.73 770.47 596.60 773.00C596.47 775.53 595.43 779.13 594.40 781.80C593.37 784.47 591.53 786.73 590.40 789.00C589.27 791.27 587.98 793.67 587.60 795.40C587.22 797.13 587.57 798.00 588.10 799.40C588.63 800.80 589.48 802.47 590.80 803.80C592.12 805.13 595.13 806.80 596.00 807.40L596.00 809.80C594.40 809.27 588.92 808.07 586.40 806.60C583.88 805.13 581.97 802.87 580.90 801.00C579.83 799.13 579.75 797.67 580.00 795.40C580.25 793.13 581.27 789.93 582.40 787.40C583.53 784.87 585.58 782.60 586.80 780.20C588.02 777.80 589.37 775.13 589.70 773.00C590.03 770.87 589.62 768.93 588.80 767.40C587.98 765.87 586.13 764.60 584.80 763.80C583.47 763.00 581.47 762.80 580.80 762.60Z" fill="#000"/>
<path d="M599.60 760.20C601.07 760.40 606.00 760.33 608.40 761.40C610.80 762.47 612.83 764.67 614.00 766.60C615.17 768.53 615.53 770.47 615.40 773.00C615.27 775.53 614.23 779.13 613.20 781.80C612.17 784.47 610.33 786.73 609.20 789.00C608.07 791.27 606.78 793.67 606.40 795.40C606.02 797.13 606.37 798.00 606.90 799.40C607.43 800.80 608.28 802.47 609.60 803.80C610.92 805.13 613.93 806.80 614.80 807.40L614.80 809.80C613.20 809.27 607.72 808.07 605.20 806.60C602.68 805.13 600.77 802.87 599.70 801.00C598.63 799.13 598.55 797.67 598.80 795.40C599.05 793.13 600.07 789.93 601.20 787.40C602.33 784.87 604.38 782.60 605.60 780.20C606.82 777.80 608.17 775.13 608.50 773.00C608.83 770.87 608.42 768.93 607.60 767.40C606.78 765.87 604.93 764.60 603.60 763.80C602.27 763.00 600.27 762.80 599.60 762.60Z" fill="#000"/>
<text transform="translate(69.70,574.60) scale(1,1.04)" font-size="35.8" text-anchor="start" >b)</text>
<text transform="translate(128.40,546.80) scale(1,1.04)" font-size="35.8" text-anchor="start" >Q<tspan dy="8.8" font-size="23.63">W</tspan></text>
<rect x="81.0" y="877.5" width="888.0" height="254.0" fill="none" stroke="#000" stroke-width="5"/>
<line x1="162.10" y1="880.00" x2="162.10" y2="900.00" stroke="#000" stroke-width="4.6" />
<line x1="162.10" y1="1129.00" x2="162.10" y2="1109.00" stroke="#000" stroke-width="4.6" />
<line x1="113.52" y1="880.00" x2="113.52" y2="889.50" stroke="#000" stroke-width="4.6" />
<line x1="113.52" y1="1129.00" x2="113.52" y2="1119.50" stroke="#000" stroke-width="4.6" />
<line x1="85.10" y1="880.00" x2="85.10" y2="889.50" stroke="#000" stroke-width="4.6" />
<line x1="85.10" y1="1129.00" x2="85.10" y2="1119.50" stroke="#000" stroke-width="4.6" />
<line x1="323.48" y1="880.00" x2="323.48" y2="900.00" stroke="#000" stroke-width="4.6" />
<line x1="323.48" y1="1129.00" x2="323.48" y2="1109.00" stroke="#000" stroke-width="4.6" />
<line x1="274.90" y1="880.00" x2="274.90" y2="889.50" stroke="#000" stroke-width="4.6" />
<line x1="274.90" y1="1129.00" x2="274.90" y2="1119.50" stroke="#000" stroke-width="4.6" />
<line x1="246.48" y1="880.00" x2="246.48" y2="889.50" stroke="#000" stroke-width="4.6" />
<line x1="246.48" y1="1129.00" x2="246.48" y2="1119.50" stroke="#000" stroke-width="4.6" />
<line x1="226.32" y1="880.00" x2="226.32" y2="889.50" stroke="#000" stroke-width="4.6" />
<line x1="226.32" y1="1129.00" x2="226.32" y2="1119.50" stroke="#000" stroke-width="4.6" />
<line x1="210.68" y1="880.00" x2="210.68" y2="889.50" stroke="#000" stroke-width="4.6" />
<line x1="210.68" y1="1129.00" x2="210.68" y2="1119.50" stroke="#000" stroke-width="4.6" />
<line x1="197.90" y1="880.00" x2="197.90" y2="889.50" stroke="#000" stroke-width="4.6" />
<line x1="197.90" y1="1129.00" x2="197.90" y2="1119.50" stroke="#000" stroke-width="4.6" />
<line x1="187.10" y1="880.00" x2="187.10" y2="889.50" stroke="#000" stroke-width="4.6" />
<line x1="187.10" y1="1129.00" x2="187.10" y2="1119.50" stroke="#000" stroke-width="4.6" />
<line x1="177.74" y1="880.00" x2="177.74" y2="889.50" stroke="#000" stroke-width="4.6" />
<line x1="177.74" y1="1129.00" x2="177.74" y2="1119.50" stroke="#000" stroke-width="4.6" />
<line x1="169.48" y1="880.00" x2="169.48" y2="889.50" stroke="#000" stroke-width="4.6" />
<line x1="169.48" y1="1129.00" x2="169.48" y2="1119.50" stroke="#000" stroke-width="4.6" />
<line x1="484.86" y1="880.00" x2="484.86" y2="900.00" stroke="#000" stroke-width="4.6" />
<line x1="484.86" y1="1129.00" x2="484.86" y2="1109.00" stroke="#000" stroke-width="4.6" />
<line x1="436.28" y1="880.00" x2="436.28" y2="889.50" stroke="#000" stroke-width="4.6" />
<line x1="436.28" y1="1129.00" x2="436.28" y2="1119.50" stroke="#000" stroke-width="4.6" />
<line x1="407.86" y1="880.00" x2="407.86" y2="889.50" stroke="#000" stroke-width="4.6" />
<line x1="407.86" y1="1129.00" x2="407.86" y2="1119.50" stroke="#000" stroke-width="4.6" />
<line x1="387.70" y1="880.00" x2="387.70" y2="889.50" stroke="#000" stroke-width="4.6" />
<line x1="387.70" y1="1129.00" x2="387.70" y2="1119.50" stroke="#000" stroke-width="4.6" />
<line x1="372.06" y1="880.00" x2="372.06" y2="889.50" stroke="#000" stroke-width="4.6" />
<line x1="372.06" y1="1129.00" x2="372.06" y2="1119.50" stroke="#000" stroke-width="4.6" />
<line x1="359.28" y1="880.00" x2="359.28" y2="889.50" stroke="#000" stroke-width="4.6" />
<line x1="359.28" y1="1129.00" x2="359.28" y2="1119.50" stroke="#000" stroke-width="4.6" />
<line x1="348.48" y1="880.00" x2="348.48" y2="889.50" stroke="#000" stroke-width="4.6" />
<line x1="348.48" y1="1129.00" x2="348.48" y2="1119.50" stroke="#000" stroke-width="4.6" />
<line x1="339.12" y1="880.00" x2="339.12" y2="889.50" stroke="#000" stroke-width="4.6" />
<line x1="339.12" y1="1129.00" x2="339.12" y2="1119.50" stroke="#000" stroke-width="4.6" />
<line x1="330.86" y1="880.00" x2="330.86" y2="889.50" stroke="#000" stroke-width="4.6" />
<line x1="330.86" y1="1129.00" x2="330.86" y2="1119.50" stroke="#000" stroke-width="4.6" />
<line x1="646.24" y1="880.00" x2="646.24" y2="900.00" stroke="#000" stroke-width="4.6" />
<line x1="646.24" y1="1129.00" x2="646.24" y2="1109.00" stroke="#000" stroke-width="4.6" />
<line x1="597.66" y1="880.00" x2="597.66" y2="889.50" stroke="#000" stroke-width="4.6" />
<line x1="597.66" y1="1129.00" x2="597.66" y2="1119.50" stroke="#000" stroke-width="4.6" />
<line x1="569.24" y1="880.00" x2="569.24" y2="889.50" stroke="#000" stroke-width="4.6" />
<line x1="569.24" y1="1129.00" x2="569.24" y2="1119.50" stroke="#000" stroke-width="4.6" />
<line x1="549.08" y1="880.00" x2="549.08" y2="889.50" stroke="#000" stroke-width="4.6" />
<line x1="549.08" y1="1129.00" x2="549.08" y2="1119.50" stroke="#000" stroke-width="4.6" />
<line x1="533.44" y1="880.00" x2="533.44" y2="889.50" stroke="#000" stroke-width="4.6" />
<line x1="533.44" y1="1129.00" x2="533.44" y2="1119.50" stroke="#000" stroke-width="4.6" />
<line x1="520.66" y1="880.00" x2="520.66" y2="889.50" stroke="#000" stroke-width="4.6" />
<line x1="520.66" y1="1129.00" x2="520.66" y2="1119.50" stroke="#000" stroke-width="4.6" />
<line x1="509.86" y1="880.00" x2="509.86" y2="889.50" stroke="#000" stroke-width="4.6" />
<line x1="509.86" y1="1129.00" x2="509.86" y2="1119.50" stroke="#000" stroke-width="4.6" />
<line x1="500.50" y1="880.00" x2="500.50" y2="889.50" stroke="#000" stroke-width="4.6" />
<line x1="500.50" y1="1129.00" x2="500.50" y2="1119.50" stroke="#000" stroke-width="4.6" />
<line x1="492.24" y1="880.00" x2="492.24" y2="889.50" stroke="#000" stroke-width="4.6" />
<line x1="492.24" y1="1129.00" x2="492.24" y2="1119.50" stroke="#000" stroke-width="4.6" />
<line x1="807.62" y1="880.00" x2="807.62" y2="900.00" stroke="#000" stroke-width="4.6" />
<line x1="807.62" y1="1129.00" x2="807.62" y2="1109.00" stroke="#000" stroke-width="4.6" />
<line x1="759.04" y1="880.00" x2="759.04" y2="889.50" stroke="#000" stroke-width="4.6" />
<line x1="759.04" y1="1129.00" x2="759.04" y2="1119.50" stroke="#000" stroke-width="4.6" />
<line x1="730.62" y1="880.00" x2="730.62" y2="889.50" stroke="#000" stroke-width="4.6" />
<line x1="730.62" y1="1129.00" x2="730.62" y2="1119.50" stroke="#000" stroke-width="4.6" />
<line x1="710.46" y1="880.00" x2="710.46" y2="889.50" stroke="#000" stroke-width="4.6" />
<line x1="710.46" y1="1129.00" x2="710.46" y2="1119.50" stroke="#000" stroke-width="4.6" />
<line x1="694.82" y1="880.00" x2="694.82" y2="889.50" stroke="#000" stroke-width="4.6" />
<line x1="694.82" y1="1129.00" x2="694.82" y2="1119.50" stroke="#000" stroke-width="4.6" />
<line x1="682.04" y1="880.00" x2="682.04" y2="889.50" stroke="#000" stroke-width="4.6" />
<line x1="682.04" y1="1129.00" x2="682.04" y2="1119.50" stroke="#000" stroke-width="4.6" />
<line x1="671.24" y1="880.00" x2="671.24" y2="889.50" stroke="#000" stroke-width="4.6" />
<line x1="671.24" y1="1129.00" x2="671.24" y2="1119.50" stroke="#000" stroke-width="4.6" />
<line x1="661.88" y1="880.00" x2="661.88" y2="889.50" stroke="#000" stroke-width="4.6" />
<line x1="661.88" y1="1129.00" x2="661.88" y2="1119.50" stroke="#000" stroke-width="4.6" />
<line x1="653.62" y1="880.00" x2="653.62" y2="889.50" stroke="#000" stroke-width="4.6" />
<line x1="653.62" y1="1129.00" x2="653.62" y2="1119.50" stroke="#000" stroke-width="4.6" />
<line x1="920.42" y1="880.00" x2="920.42" y2="889.50" stroke="#000" stroke-width="4.6" />
<line x1="920.42" y1="1129.00" x2="920.42" y2="1119.50" stroke="#000" stroke-width="4.6" />
<line x1="892.00" y1="880.00" x2="892.00" y2="889.50" stroke="#000" stroke-width="4.6" />
<line x1="892.00" y1="1129.00" x2="892.00" y2="1119.50" stroke="#000" stroke-width="4.6" />
<line x1="871.84" y1="880.00" x2="871.84" y2="889.50" stroke="#000" stroke-width="4.6" />
<line x1="871.84" y1="1129.00" x2="871.84" y2="1119.50" stroke="#000" stroke-width="4.6" />
<line x1="856.20" y1="880.00" x2="856.20" y2="889.50" stroke="#000" stroke-width="4.6" />
<line x1="856.20" y1="1129.00" x2="856.20" y2="1119.50" stroke="#000" stroke-width="4.6" />
<line x1="843.42" y1="880.00" x2="843.42" y2="889.50" stroke="#000" stroke-width="4.6" />
<line x1="843.42" y1="1129.00" x2="843.42" y2="1119.50" stroke="#000" stroke-width="4.6" />
<line x1="832.62" y1="880.00" x2="832.62" y2="889.50" stroke="#000" stroke-width="4.6" />
<line x1="832.62" y1="1129.00" x2="832.62" y2="1119.50" stroke="#000" stroke-width="4.6" />
<line x1="823.26" y1="880.00" x2="823.26" y2="889.50" stroke="#000" stroke-width="4.6" />
<line x1="823.26" y1="1129.00" x2="823.26" y2="1119.50" stroke="#000" stroke-width="4.6" />
<line x1="815.00" y1="880.00" x2="815.00" y2="889.50" stroke="#000" stroke-width="4.6" />
<line x1="815.00" y1="1129.00" x2="815.00" y2="1119.50" stroke="#000" stroke-width="4.6" />
<line x1="83.50" y1="1088.60" x2="94.50" y2="1088.60" stroke="#000" stroke-width="4.6" />
<line x1="966.50" y1="1088.60" x2="955.50" y2="1088.60" stroke="#000" stroke-width="4.6" />
<line x1="83.50" y1="1046.50" x2="88.00" y2="1046.50" stroke="#000" stroke-width="4.6" />
<line x1="966.50" y1="1046.50" x2="962.00" y2="1046.50" stroke="#000" stroke-width="4.6" />
<line x1="83.50" y1="1004.40" x2="94.50" y2="1004.40" stroke="#000" stroke-width="4.6" />
<line x1="966.50" y1="1004.40" x2="955.50" y2="1004.40" stroke="#000" stroke-width="4.6" />
<line x1="83.50" y1="962.30" x2="88.00" y2="962.30" stroke="#000" stroke-width="4.6" />
<line x1="966.50" y1="962.30" x2="962.00" y2="962.30" stroke="#000" stroke-width="4.6" />
<line x1="83.50" y1="920.20" x2="94.50" y2="920.20" stroke="#000" stroke-width="4.6" />
<line x1="966.50" y1="920.20" x2="955.50" y2="920.20" stroke="#000" stroke-width="4.6" />
<g clip-path="url(#clipC)">
<path d="M81.0 1079.9l6.8 11.9h-13.6zM89.1 1071.1l6.8 11.9h-13.6zM97.1 1053.0l6.8 11.9h-13.6zM105.2 1050.0l6.8 11.9h-13.6zM113.3 1037.8l6.8 11.9h-13.6zM121.3 1031.9l6.8 11.9h-13.6zM129.4 1034.9l6.8 11.9h-13.6zM137.5 1021.0l6.8 11.9h-13.6zM145.6 1012.1l6.8 11.9h-13.6zM153.6 1010.0l6.8 11.9h-13.6zM161.7 1009.2l6.8 11.9h-13.6zM169.8 1002.9l6.8 11.9h-13.6zM177.8 1003.7l6.8 11.9h-13.6zM185.9 1004.6l6.8 11.9h-13.6zM194.0 997.4l6.8 11.9h-13.6zM202.0 989.4l6.8 11.9h-13.6zM210.1 989.0l6.8 11.9h-13.6zM218.2 984.8l6.8 11.9h-13.6zM226.2 984.8l6.8 11.9h-13.6zM234.3 983.9l6.8 11.9h-13.6zM242.4 982.2l6.8 11.9h-13.6zM250.4 980.6l6.8 11.9h-13.6zM258.5 974.2l6.8 11.9h-13.6zM266.6 972.1l6.8 11.9h-13.6zM274.7 965.0l6.8 11.9h-13.6zM282.7 964.1l6.8 11.9h-13.6zM290.8 961.2l6.8 11.9h-13.6zM298.9 962.9l6.8 11.9h-13.6zM306.9 959.9l6.8 11.9h-13.6zM315.0 959.1l6.8 11.9h-13.6zM323.1 957.0l6.8 11.9h-13.6zM331.1 962.9l6.8 11.9h-13.6zM339.2 964.1l6.8 11.9h-13.6zM347.3 967.1l6.8 11.9h-13.6zM355.3 973.0l6.8 11.9h-13.6zM363.4 981.0l6.8 11.9h-13.6zM371.5 985.2l6.8 11.9h-13.6zM379.6 991.9l6.8 11.9h-13.6zM387.6 997.4l6.8 11.9h-13.6zM395.7 1003.7l6.8 11.9h-13.6zM403.8 1009.2l6.8 11.9h-13.6zM411.8 1010.9l6.8 11.9h-13.6zM419.9 1013.8l6.8 11.9h-13.6zM428.0 1018.9l6.8 11.9h-13.6zM436.0 1023.9l6.8 11.9h-13.6zM444.1 1023.9l6.8 11.9h-13.6zM452.2 1026.0l6.8 11.9h-13.6zM460.2 1026.0l6.8 11.9h-13.6zM468.3 1026.0l6.8 11.9h-13.6zM476.4 1026.0l6.8 11.9h-13.6zM484.4 1026.0l6.8 11.9h-13.6zM492.5 1026.0l6.8 11.9h-13.6zM500.6 1026.0l6.8 11.9h-13.6zM508.7 1023.9l6.8 11.9h-13.6zM516.7 1022.4l6.8 11.9h-13.6zM524.8 1021.0l6.8 11.9h-13.6zM532.9 1019.5l6.8 11.9h-13.6zM540.9 1018.0l6.8 11.9h-13.6zM549.0 1016.3l6.8 11.9h-13.6zM557.1 1014.7l6.8 11.9h-13.6zM565.1 1013.0l6.8 11.9h-13.6zM573.2 1011.1l6.8 11.9h-13.6zM581.3 1009.2l6.8 11.9h-13.6zM589.3 1006.7l6.8 11.9h-13.6zM597.4 1004.1l6.8 11.9h-13.6zM605.5 1000.6l6.8 11.9h-13.6zM613.6 997.0l6.8 11.9h-13.6zM621.6 992.6l6.8 11.9h-13.6zM629.7 988.1l6.8 11.9h-13.6zM637.8 986.0l6.8 11.9h-13.6zM645.8 983.1l6.8 11.9h-13.6zM653.9 981.0l6.8 11.9h-13.6zM662.0 978.0l6.8 11.9h-13.6zM670.0 975.9l6.8 11.9h-13.6zM678.1 977.2l6.8 11.9h-13.6zM686.2 970.0l6.8 11.9h-13.6zM694.2 970.9l6.8 11.9h-13.6zM702.3 967.1l6.8 11.9h-13.6zM710.4 965.8l6.8 11.9h-13.6zM718.5 965.0l6.8 11.9h-13.6zM726.5 962.9l6.8 11.9h-13.6zM734.6 964.1l6.8 11.9h-13.6zM742.7 964.1l6.8 11.9h-13.6zM750.7 964.1l6.8 11.9h-13.6zM758.8 964.1l6.8 11.9h-13.6zM766.9 965.0l6.8 11.9h-13.6zM774.9 965.8l6.8 11.9h-13.6zM783.0 967.9l6.8 11.9h-13.6zM791.1 968.8l6.8 11.9h-13.6zM799.1 972.1l6.8 11.9h-13.6zM807.2 973.4l6.8 11.9h-13.6zM815.3 976.4l6.8 11.9h-13.6zM823.3 978.0l6.8 11.9h-13.6zM831.4 979.9l6.8 11.9h-13.6zM839.5 981.8l6.8 11.9h-13.6zM847.6 984.3l6.8 11.9h-13.6zM855.6 986.9l6.8 11.9h-13.6zM863.7 991.9l6.8 11.9h-13.6zM871.8 993.2l6.8 11.9h-13.6zM879.8 997.0l6.8 11.9h-13.6zM887.9 1001.2l6.8 11.9h-13.6zM896.0 1004.1l6.8 11.9h-13.6zM904.0 1007.1l6.8 11.9h-13.6zM912.1 1007.9l6.8 11.9h-13.6zM920.2 1010.0l6.8 11.9h-13.6zM928.2 1012.1l6.8 11.9h-13.6zM936.3 1012.1l6.8 11.9h-13.6zM944.4 1012.1l6.8 11.9h-13.6zM952.5 1012.1l6.8 11.9h-13.6zM960.5 1010.9l6.8 11.9h-13.6zM968.6 1007.1l6.8 11.9h-13.6z" fill="#F9BA00"/>
<path d="M76.1 1057.2h9.8v9.8h-9.8zM84.2 1040.8h9.8v9.8h-9.8zM92.2 1031.9h9.8v9.8h-9.8zM100.3 1023.1h9.8v9.8h-9.8zM108.4 1013.0h9.8v9.8h-9.8zM116.4 1011.3h9.8v9.8h-9.8zM124.5 1009.2h9.8v9.8h-9.8zM132.6 1006.2h9.8v9.8h-9.8zM140.7 1005.0h9.8v9.8h-9.8zM148.7 999.5h9.8v9.8h-9.8zM156.8 995.3h9.8v9.8h-9.8zM164.9 990.2h9.8v9.8h-9.8zM172.9 991.1h9.8v9.8h-9.8zM181.0 990.2h9.8v9.8h-9.8zM189.1 993.2h9.8v9.8h-9.8zM197.1 993.2h9.8v9.8h-9.8zM205.2 987.3h9.8v9.8h-9.8zM213.3 989.0h9.8v9.8h-9.8zM221.3 985.2h9.8v9.8h-9.8zM229.4 983.1h9.8v9.8h-9.8zM237.5 983.9h9.8v9.8h-9.8zM245.5 982.2h9.8v9.8h-9.8zM253.6 976.8h9.8v9.8h-9.8zM261.7 986.9h9.8v9.8h-9.8zM269.8 990.2h9.8v9.8h-9.8zM277.8 990.7h9.8v9.8h-9.8zM285.9 991.1h9.8v9.8h-9.8zM294.0 994.0h9.8v9.8h-9.8zM302.0 994.0h9.8v9.8h-9.8zM310.1 994.0h9.8v9.8h-9.8zM318.2 994.0h9.8v9.8h-9.8zM326.2 998.2h9.8v9.8h-9.8zM334.3 998.2h9.8v9.8h-9.8zM342.4 998.2h9.8v9.8h-9.8zM350.4 1003.3h9.8v9.8h-9.8zM358.5 1000.3h9.8v9.8h-9.8zM366.6 1002.0h9.8v9.8h-9.8zM374.7 1004.1h9.8v9.8h-9.8zM382.7 1004.1h9.8v9.8h-9.8zM390.8 1007.1h9.8v9.8h-9.8zM398.9 1004.1h9.8v9.8h-9.8zM406.9 1004.1h9.8v9.8h-9.8zM415.0 1004.1h9.8v9.8h-9.8zM423.1 1003.3h9.8v9.8h-9.8zM431.1 1001.2h9.8v9.8h-9.8zM439.2 1003.3h9.8v9.8h-9.8zM447.3 1003.3h9.8v9.8h-9.8zM455.3 1003.3h9.8v9.8h-9.8zM463.4 998.2h9.8v9.8h-9.8zM471.5 997.0h9.8v9.8h-9.8zM479.6 997.0h9.8v9.8h-9.8zM487.6 997.0h9.8v9.8h-9.8zM495.7 995.3h9.8v9.8h-9.8zM503.8 993.2h9.8v9.8h-9.8zM511.8 993.8h9.8v9.8h-9.8zM519.9 994.4h9.8v9.8h-9.8zM528.0 997.0h9.8v9.8h-9.8zM536.0 999.5h9.8v9.8h-9.8zM544.1 995.3h9.8v9.8h-9.8zM552.2 992.8h9.8v9.8h-9.8zM560.2 990.2h9.8v9.8h-9.8zM568.3 990.2h9.8v9.8h-9.8zM576.4 990.2h9.8v9.8h-9.8zM584.4 990.2h9.8v9.8h-9.8zM592.5 992.3h9.8v9.8h-9.8zM600.6 994.4h9.8v9.8h-9.8zM608.7 995.6h9.8v9.8h-9.8zM616.7 996.8h9.8v9.8h-9.8zM624.8 997.9h9.8v9.8h-9.8zM632.9 999.1h9.8v9.8h-9.8zM640.9 999.1h9.8v9.8h-9.8zM649.0 999.1h9.8v9.8h-9.8zM657.1 999.1h9.8v9.8h-9.8zM665.1 999.1h9.8v9.8h-9.8zM673.2 999.1h9.8v9.8h-9.8zM681.3 996.1h9.8v9.8h-9.8zM689.3 996.1h9.8v9.8h-9.8zM697.4 996.1h9.8v9.8h-9.8zM705.5 996.1h9.8v9.8h-9.8zM713.6 996.1h9.8v9.8h-9.8zM721.6 1000.8h9.8v9.8h-9.8zM729.7 1001.5h9.8v9.8h-9.8zM737.8 1002.2h9.8v9.8h-9.8zM745.8 1003.0h9.8v9.8h-9.8zM753.9 1003.7h9.8v9.8h-9.8zM762.0 1003.7h9.8v9.8h-9.8zM770.0 1003.7h9.8v9.8h-9.8zM778.1 1003.7h9.8v9.8h-9.8zM786.2 1003.7h9.8v9.8h-9.8zM794.2 1003.7h9.8v9.8h-9.8zM802.3 1003.7h9.8v9.8h-9.8zM810.4 1002.3h9.8v9.8h-9.8zM818.4 1000.9h9.8v9.8h-9.8zM826.5 999.5h9.8v9.8h-9.8zM834.6 997.4h9.8v9.8h-9.8zM842.7 997.4h9.8v9.8h-9.8zM850.7 997.4h9.8v9.8h-9.8zM858.8 997.4h9.8v9.8h-9.8zM866.9 997.4h9.8v9.8h-9.8zM874.9 997.4h9.8v9.8h-9.8zM883.0 997.4h9.8v9.8h-9.8zM891.1 997.4h9.8v9.8h-9.8zM899.1 998.1h9.8v9.8h-9.8zM907.2 998.8h9.8v9.8h-9.8zM915.3 999.5h9.8v9.8h-9.8zM923.3 1000.3h9.8v9.8h-9.8zM931.4 1000.3h9.8v9.8h-9.8zM939.5 1000.3h9.8v9.8h-9.8zM947.6 998.7h9.8v9.8h-9.8zM955.6 997.0h9.8v9.8h-9.8zM963.7 995.3h9.8v9.8h-9.8z" fill="#005293"/>
<path d="M81.0 1101.7l7.3 8l-7.3 8l-7.3-8zM89.1 1062.9l7.3 8l-7.3 8l-7.3-8zM97.1 1044.0l7.3 8l-7.3 8l-7.3-8zM105.2 1027.1l7.3 8l-7.3 8l-7.3-8zM113.3 1017.5l7.3 8l-7.3 8l-7.3-8zM121.3 1009.0l7.3 8l-7.3 8l-7.3-8zM129.4 1003.1l7.3 8l-7.3 8l-7.3-8zM137.5 993.0l7.3 8l-7.3 8l-7.3-8zM145.6 995.1l7.3 8l-7.3 8l-7.3-8zM153.6 990.9l7.3 8l-7.3 8l-7.3-8zM161.7 996.4l7.3 8l-7.3 8l-7.3-8zM169.8 990.1l7.3 8l-7.3 8l-7.3-8zM177.8 996.4l7.3 8l-7.3 8l-7.3-8zM185.9 996.8l7.3 8l-7.3 8l-7.3-8zM194.0 996.6l7.3 8l-7.3 8l-7.3-8zM202.0 996.4l7.3 8l-7.3 8l-7.3-8zM210.1 994.7l7.3 8l-7.3 8l-7.3-8zM218.2 993.0l7.3 8l-7.3 8l-7.3-8zM226.2 992.2l7.3 8l-7.3 8l-7.3-8zM234.3 991.3l7.3 8l-7.3 8l-7.3-8zM242.4 989.7l7.3 8l-7.3 8l-7.3-8zM250.4 988.0l7.3 8l-7.3 8l-7.3-8zM258.5 990.9l7.3 8l-7.3 8l-7.3-8zM266.6 985.9l7.3 8l-7.3 8l-7.3-8zM274.7 982.9l7.3 8l-7.3 8l-7.3-8zM282.7 985.9l7.3 8l-7.3 8l-7.3-8zM290.8 985.5l7.3 8l-7.3 8l-7.3-8zM298.9 982.9l7.3 8l-7.3 8l-7.3-8zM306.9 983.8l7.3 8l-7.3 8l-7.3-8zM315.0 983.8l7.3 8l-7.3 8l-7.3-8zM323.1 981.7l7.3 8l-7.3 8l-7.3-8zM331.1 982.9l7.3 8l-7.3 8l-7.3-8zM339.2 983.8l7.3 8l-7.3 8l-7.3-8zM347.3 985.9l7.3 8l-7.3 8l-7.3-8zM355.3 980.8l7.3 8l-7.3 8l-7.3-8zM363.4 982.9l7.3 8l-7.3 8l-7.3-8zM371.5 980.0l7.3 8l-7.3 8l-7.3-8zM379.6 977.9l7.3 8l-7.3 8l-7.3-8zM387.6 976.2l7.3 8l-7.3 8l-7.3-8zM395.7 980.0l7.3 8l-7.3 8l-7.3-8zM403.8 980.0l7.3 8l-7.3 8l-7.3-8zM411.8 982.1l7.3 8l-7.3 8l-7.3-8zM419.9 985.0l7.3 8l-7.3 8l-7.3-8zM428.0 988.0l7.3 8l-7.3 8l-7.3-8zM436.0 990.9l7.3 8l-7.3 8l-7.3-8zM444.1 988.8l7.3 8l-7.3 8l-7.3-8zM452.2 993.0l7.3 8l-7.3 8l-7.3-8zM460.2 996.8l7.3 8l-7.3 8l-7.3-8zM468.3 1000.2l7.3 8l-7.3 8l-7.3-8zM476.4 1006.1l7.3 8l-7.3 8l-7.3-8zM484.4 1011.1l7.3 8l-7.3 8l-7.3-8zM492.5 1012.0l7.3 8l-7.3 8l-7.3-8zM500.6 1012.0l7.3 8l-7.3 8l-7.3-8zM508.7 1012.0l7.3 8l-7.3 8l-7.3-8zM516.7 1012.0l7.3 8l-7.3 8l-7.3-8zM524.8 1014.1l7.3 8l-7.3 8l-7.3-8zM532.9 1011.1l7.3 8l-7.3 8l-7.3-8zM540.9 1008.2l7.3 8l-7.3 8l-7.3-8zM549.0 1006.1l7.3 8l-7.3 8l-7.3-8zM557.1 1004.8l7.3 8l-7.3 8l-7.3-8zM565.1 1001.9l7.3 8l-7.3 8l-7.3-8zM573.2 1001.9l7.3 8l-7.3 8l-7.3-8zM581.3 1000.2l7.3 8l-7.3 8l-7.3-8zM589.3 998.1l7.3 8l-7.3 8l-7.3-8zM597.4 996.0l7.3 8l-7.3 8l-7.3-8zM605.5 995.1l7.3 8l-7.3 8l-7.3-8zM613.6 993.0l7.3 8l-7.3 8l-7.3-8zM621.6 990.9l7.3 8l-7.3 8l-7.3-8zM629.7 988.0l7.3 8l-7.3 8l-7.3-8zM637.8 985.9l7.3 8l-7.3 8l-7.3-8zM645.8 984.2l7.3 8l-7.3 8l-7.3-8zM653.9 984.2l7.3 8l-7.3 8l-7.3-8zM662.0 984.2l7.3 8l-7.3 8l-7.3-8zM670.0 984.2l7.3 8l-7.3 8l-7.3-8zM678.1 984.2l7.3 8l-7.3 8l-7.3-8zM686.2 982.1l7.3 8l-7.3 8l-7.3-8zM694.2 981.9l7.3 8l-7.3 8l-7.3-8zM702.3 981.7l7.3 8l-7.3 8l-7.3-8zM710.4 982.9l7.3 8l-7.3 8l-7.3-8zM718.5 984.0l7.3 8l-7.3 8l-7.3-8zM726.5 985.0l7.3 8l-7.3 8l-7.3-8zM734.6 985.5l7.3 8l-7.3 8l-7.3-8zM742.7 985.9l7.3 8l-7.3 8l-7.3-8zM750.7 987.3l7.3 8l-7.3 8l-7.3-8zM758.8 988.8l7.3 8l-7.3 8l-7.3-8zM766.9 989.5l7.3 8l-7.3 8l-7.3-8zM774.9 990.1l7.3 8l-7.3 8l-7.3-8zM783.0 992.2l7.3 8l-7.3 8l-7.3-8zM791.1 993.2l7.3 8l-7.3 8l-7.3-8zM799.1 994.2l7.3 8l-7.3 8l-7.3-8zM807.2 995.1l7.3 8l-7.3 8l-7.3-8zM815.3 996.8l7.3 8l-7.3 8l-7.3-8zM823.3 996.8l7.3 8l-7.3 8l-7.3-8zM831.4 996.8l7.3 8l-7.3 8l-7.3-8zM839.5 996.8l7.3 8l-7.3 8l-7.3-8zM847.6 996.8l7.3 8l-7.3 8l-7.3-8zM855.6 996.8l7.3 8l-7.3 8l-7.3-8zM863.7 996.8l7.3 8l-7.3 8l-7.3-8zM871.8 996.8l7.3 8l-7.3 8l-7.3-8zM879.8 996.8l7.3 8l-7.3 8l-7.3-8zM887.9 996.8l7.3 8l-7.3 8l-7.3-8zM896.0 996.8l7.3 8l-7.3 8l-7.3-8zM904.0 998.9l7.3 8l-7.3 8l-7.3-8zM912.1 998.9l7.3 8l-7.3 8l-7.3-8zM920.2 998.9l7.3 8l-7.3 8l-7.3-8zM928.2 998.1l7.3 8l-7.3 8l-7.3-8zM936.3 996.8l7.3 8l-7.3 8l-7.3-8zM944.4 995.1l7.3 8l-7.3 8l-7.3-8zM952.5 993.0l7.3 8l-7.3 8l-7.3-8zM960.5 990.9l7.3 8l-7.3 8l-7.3-8zM968.6 988.0l7.3 8l-7.3 8l-7.3-8z" fill="#C4071B"/>
<path d="M81.0 965.9l6.8 -11.9h-13.6zM89.1 965.1l6.8 -11.9h-13.6zM97.1 966.8l6.8 -11.9h-13.6zM105.2 969.3l6.8 -11.9h-13.6zM113.3 971.0l6.8 -11.9h-13.6zM121.3 973.9l6.8 -11.9h-13.6zM129.4 979.8l6.8 -11.9h-13.6zM137.5 986.1l6.8 -11.9h-13.6zM145.6 999.2l6.8 -11.9h-13.6zM153.6 1000.9l6.8 -11.9h-13.6zM161.7 1013.9l6.8 -11.9h-13.6zM169.8 1023.2l6.8 -11.9h-13.6zM177.8 1029.9l6.8 -11.9h-13.6zM185.9 1035.8l6.8 -11.9h-13.6zM194.0 1043.0l6.8 -11.9h-13.6zM202.0 1053.1l6.8 -11.9h-13.6zM210.1 1048.0l6.8 -11.9h-13.6zM218.2 1053.1l6.8 -11.9h-13.6zM226.2 1059.0l6.8 -11.9h-13.6zM234.3 1061.1l6.8 -11.9h-13.6zM242.4 1053.9l6.8 -11.9h-13.6zM250.4 1053.1l6.8 -11.9h-13.6zM258.5 1048.9l6.8 -11.9h-13.6zM266.6 1039.2l6.8 -11.9h-13.6zM274.7 1031.2l6.8 -11.9h-13.6zM282.7 1021.1l6.8 -11.9h-13.6zM290.8 1008.9l6.8 -11.9h-13.6zM298.9 997.9l6.8 -11.9h-13.6zM306.9 987.8l6.8 -11.9h-13.6zM315.0 981.5l6.8 -11.9h-13.6zM323.1 973.1l6.8 -11.9h-13.6zM331.1 970.1l6.8 -11.9h-13.6zM339.2 970.1l6.8 -11.9h-13.6zM347.3 971.8l6.8 -11.9h-13.6zM355.3 976.0l6.8 -11.9h-13.6zM363.4 986.1l6.8 -11.9h-13.6zM371.5 991.2l6.8 -11.9h-13.6zM379.6 1002.1l6.8 -11.9h-13.6zM387.6 1008.9l6.8 -11.9h-13.6zM395.7 1016.0l6.8 -11.9h-13.6zM403.8 1021.1l6.8 -11.9h-13.6zM411.8 1032.0l6.8 -11.9h-13.6zM419.9 1037.1l6.8 -11.9h-13.6zM428.0 1035.0l6.8 -11.9h-13.6zM436.0 1035.8l6.8 -11.9h-13.6zM444.1 1032.0l6.8 -11.9h-13.6zM452.2 1032.0l6.8 -11.9h-13.6zM460.2 1029.9l6.8 -11.9h-13.6zM468.3 1026.1l6.8 -11.9h-13.6zM476.4 1021.9l6.8 -11.9h-13.6zM484.4 1016.9l6.8 -11.9h-13.6zM492.5 1015.2l6.8 -11.9h-13.6zM500.6 1013.1l6.8 -11.9h-13.6zM508.7 1010.1l6.8 -11.9h-13.6zM516.7 1008.9l6.8 -11.9h-13.6zM524.8 1007.2l6.8 -11.9h-13.6zM532.9 1007.2l6.8 -11.9h-13.6zM540.9 1007.2l6.8 -11.9h-13.6zM549.0 1007.2l6.8 -11.9h-13.6zM557.1 1007.2l6.8 -11.9h-13.6zM565.1 1007.2l6.8 -11.9h-13.6zM573.2 1005.1l6.8 -11.9h-13.6zM581.3 1005.9l6.8 -11.9h-13.6zM589.3 1005.9l6.8 -11.9h-13.6zM597.4 1005.9l6.8 -11.9h-13.6zM605.5 1005.9l6.8 -11.9h-13.6zM613.6 1008.0l6.8 -11.9h-13.6zM621.6 1008.0l6.8 -11.9h-13.6zM629.7 1008.0l6.8 -11.9h-13.6zM637.8 1008.0l6.8 -11.9h-13.6zM645.8 1008.0l6.8 -11.9h-13.6zM653.9 1008.0l6.8 -11.9h-13.6zM662.0 1008.0l6.8 -11.9h-13.6zM670.0 1008.0l6.8 -11.9h-13.6zM678.1 1008.0l6.8 -11.9h-13.6zM686.2 1013.9l6.8 -11.9h-13.6zM694.2 1016.9l6.8 -11.9h-13.6zM702.3 1016.9l6.8 -11.9h-13.6zM710.4 1016.9l6.8 -11.9h-13.6zM718.5 1016.9l6.8 -11.9h-13.6zM726.5 1016.9l6.8 -11.9h-13.6zM734.6 1019.0l6.8 -11.9h-13.6zM742.7 1019.0l6.8 -11.9h-13.6zM750.7 1019.0l6.8 -11.9h-13.6zM758.8 1019.0l6.8 -11.9h-13.6zM766.9 1019.0l6.8 -11.9h-13.6zM774.9 1019.8l6.8 -11.9h-13.6zM783.0 1020.3l6.8 -11.9h-13.6zM791.1 1020.9l6.8 -11.9h-13.6zM799.1 1021.4l6.8 -11.9h-13.6zM807.2 1021.9l6.8 -11.9h-13.6zM815.3 1021.9l6.8 -11.9h-13.6zM823.3 1021.9l6.8 -11.9h-13.6zM831.4 1021.9l6.8 -11.9h-13.6zM839.5 1021.9l6.8 -11.9h-13.6zM847.6 1021.9l6.8 -11.9h-13.6zM855.6 1021.1l6.8 -11.9h-13.6zM863.7 1019.8l6.8 -11.9h-13.6zM871.8 1018.1l6.8 -11.9h-13.6zM879.8 1016.0l6.8 -11.9h-13.6zM887.9 1015.2l6.8 -11.9h-13.6zM896.0 1013.9l6.8 -11.9h-13.6zM904.0 1011.8l6.8 -11.9h-13.6zM912.1 1011.0l6.8 -11.9h-13.6zM920.2 1010.1l6.8 -11.9h-13.6zM928.2 1008.0l6.8 -11.9h-13.6zM936.3 1005.9l6.8 -11.9h-13.6zM944.4 1003.8l6.8 -11.9h-13.6zM952.5 1002.1l6.8 -11.9h-13.6zM960.5 999.2l6.8 -11.9h-13.6zM968.6 995.8l6.8 -11.9h-13.6z" fill="#679A1D"/>
</g>
<text transform="translate(72.40,1101.50) scale(1,1.04)" font-size="35.8" text-anchor="end" >-2</text>
<text transform="translate(72.40,1017.30) scale(1,1.04)" font-size="35.8" text-anchor="end" >0</text>
<text transform="translate(72.40,933.10) scale(1,1.04)" font-size="35.8" text-anchor="end" >2</text>
<text transform="translate(162.10,1174.80) scale(1,1.04)" font-size="35.8" text-anchor="middle" >10000</text>
<text transform="translate(323.48,1174.80) scale(1,1.04)" font-size="35.8" text-anchor="middle" >1000</text>
<text transform="translate(484.86,1174.80) scale(1,1.04)" font-size="35.8" text-anchor="middle" >100</text>
<text transform="translate(646.24,1174.80) scale(1,1.04)" font-size="35.8" text-anchor="middle" >10</text>
<text transform="translate(807.62,1174.80) scale(1,1.04)" font-size="35.8" text-anchor="middle" >1</text>
<text transform="translate(969.00,1174.80) scale(1,1.04)" font-size="35.8" text-anchor="middle" >0.1</text>
<text transform="translate(513.00,1212.30) scale(1,1.04)" font-size="35.8" text-anchor="middle" >Frequency [Hz]</text>
<text transform="translate(27,1004) rotate(-90) scale(1,1.04)" font-size="35.80" text-anchor="middle">Residuals [%]</text>
<text transform="translate(96.20,921.00) scale(1,1.04)" font-size="35.8" text-anchor="start" >c)</text>
<rect x="147.5" y="1059" width="796.5" height="50.3" fill="#fff" stroke="#000" stroke-width="3"/>
<rect x="175.4" y="1079.3" width="10" height="10" fill="#005293"/>
<text transform="translate(208.50,1096.20) scale(1,1.04)" font-size="35.8" text-anchor="start" >LP57</text>
<path d="M320.8 1077.2l6.8 11.9h-13.6z" fill="#F9BA00"/>
<text transform="translate(347.70,1096.20) scale(1,1.04)" font-size="35.8" text-anchor="start" >+1% FEC</text>
<path d="M532.9 1076.5l7.3 8l-7.3 8l-7.3-8z" fill="#C4071B"/>
<text transform="translate(559.60,1096.20) scale(1,1.04)" font-size="35.8" text-anchor="start" >+1% VC</text>
<path d="M721.3 1092.5l6.8 -11.9h-13.6z" fill="#679A1D"/>
<text transform="translate(749.20,1096.20) scale(1,1.04)" font-size="35.8" text-anchor="start" >+1% DiFEC</text>
<rect x="93.25" y="1564.5" width="80.8" height="84.5" fill="#005293"/>
<line x1="133.45" y1="1525.08" x2="133.45" y2="1600.48" stroke="#000" stroke-width="3" />
<line x1="121.95" y1="1525.08" x2="144.95" y2="1525.08" stroke="#000" stroke-width="3" />
<line x1="121.95" y1="1600.48" x2="144.95" y2="1600.48" stroke="#000" stroke-width="3" />
<rect x="197.5" y="1587.5" width="80.8" height="61.5" fill="#F9BA00"/>
<line x1="237.70" y1="1574.98" x2="237.70" y2="1597.52" stroke="#000" stroke-width="3" />
<line x1="226.20" y1="1574.98" x2="249.20" y2="1574.98" stroke="#000" stroke-width="3" />
<line x1="226.20" y1="1597.52" x2="249.20" y2="1597.52" stroke="#000" stroke-width="3" />
<rect x="302.3" y="1539.4" width="80.8" height="109.6" fill="#C4071B"/>
<line x1="342.50" y1="1526.98" x2="342.50" y2="1549.86" stroke="#000" stroke-width="3" />
<line x1="331.00" y1="1526.98" x2="354.00" y2="1526.98" stroke="#000" stroke-width="3" />
<line x1="331.00" y1="1549.86" x2="354.00" y2="1549.86" stroke="#000" stroke-width="3" />
<rect x="406.8" y="1341.9" width="80.8" height="307.1" fill="#679A1D"/>
<line x1="447.00" y1="1322.99" x2="447.00" y2="1358.26" stroke="#000" stroke-width="3" />
<line x1="435.50" y1="1322.99" x2="458.50" y2="1322.99" stroke="#000" stroke-width="3" />
<line x1="435.50" y1="1358.26" x2="458.50" y2="1358.26" stroke="#000" stroke-width="3" />
<rect x="511.7" y="1580.8" width="80.9" height="68.2" fill="#005293"/>
<clipPath id="hB"><rect x="511.7" y="1580.8" width="80.9" height="68.2"/></clipPath>
<path d="M506.7 1609.3L597.6 1518.4M506.7 1633.8L597.6 1542.9M506.7 1658.3L597.6 1567.4M506.7 1682.8L597.6 1591.9M506.7 1707.3L597.6 1616.4M506.7 1731.8L597.6 1640.9" stroke="#fff" stroke-width="3.4" fill="none" clip-path="url(#hB)"/>
<line x1="551.90" y1="1571.79" x2="551.90" y2="1587.04" stroke="#000" stroke-width="3" />
<line x1="540.40" y1="1571.79" x2="563.40" y2="1571.79" stroke="#000" stroke-width="3" />
<line x1="540.40" y1="1587.04" x2="563.40" y2="1587.04" stroke="#000" stroke-width="3" />
<rect x="616.6" y="1574.9" width="80.9" height="74.1" fill="#F9BA00"/>
<clipPath id="hY"><rect x="616.6" y="1574.9" width="80.9" height="74.1"/></clipPath>
<path d="M611.6 1603.4L702.5 1512.5M611.6 1627.9L702.5 1537.0M611.6 1652.4L702.5 1561.5M611.6 1676.9L702.5 1586.0M611.6 1701.4L702.5 1610.5M611.6 1725.9L702.5 1635.0" stroke="#fff" stroke-width="3.4" fill="none" clip-path="url(#hY)"/>
<line x1="656.80" y1="1567.97" x2="656.80" y2="1578.46" stroke="#000" stroke-width="3" />
<line x1="645.30" y1="1567.97" x2="668.30" y2="1567.97" stroke="#000" stroke-width="3" />
<line x1="645.30" y1="1578.46" x2="668.30" y2="1578.46" stroke="#000" stroke-width="3" />
<rect x="721.5" y="1532.7" width="80.9" height="116.3" fill="#C4071B"/>
<clipPath id="hR"><rect x="721.5" y="1532.7" width="80.9" height="116.3"/></clipPath>
<path d="M716.5 1561.2L807.4 1470.3M716.5 1585.7L807.4 1494.8M716.5 1610.2L807.4 1519.3M716.5 1634.7L807.4 1543.8M716.5 1659.2L807.4 1568.3M716.5 1683.7L807.4 1592.8M716.5 1708.2L807.4 1617.3M716.5 1732.7L807.4 1641.8" stroke="#fff" stroke-width="3.4" fill="none" clip-path="url(#hR)"/>
<line x1="761.70" y1="1529.84" x2="761.70" y2="1534.61" stroke="#000" stroke-width="3" />
<line x1="750.20" y1="1529.84" x2="773.20" y2="1529.84" stroke="#000" stroke-width="3" />
<line x1="750.20" y1="1534.61" x2="773.20" y2="1534.61" stroke="#000" stroke-width="3" />
<rect x="825.9" y="1296.5" width="80.9" height="352.5" fill="#679A1D"/>
<clipPath id="hG"><rect x="825.9" y="1296.5" width="80.9" height="352.5"/></clipPath>
<path d="M820.9 1325.0L911.8 1234.1M820.9 1349.5L911.8 1258.6M820.9 1374.0L911.8 1283.1M820.9 1398.5L911.8 1307.6M820.9 1423.0L911.8 1332.1M820.9 1447.5L911.8 1356.6M820.9 1472.0L911.8 1381.1M820.9 1496.5L911.8 1405.6M820.9 1521.0L911.8 1430.1M820.9 1545.5L911.8 1454.6M820.9 1570.0L911.8 1479.1M820.9 1594.5L911.8 1503.6M820.9 1619.0L911.8 1528.1M820.9 1643.5L911.8 1552.6M820.9 1668.0L911.8 1577.1M820.9 1692.5L911.8 1601.6M820.9 1717.0L911.8 1626.1" stroke="#fff" stroke-width="3.4" fill="none" clip-path="url(#hG)"/>
<line x1="866.10" y1="1284.86" x2="866.10" y2="1303.92" stroke="#000" stroke-width="3" />
<line x1="854.60" y1="1284.86" x2="877.60" y2="1284.86" stroke="#000" stroke-width="3" />
<line x1="854.60" y1="1303.92" x2="877.60" y2="1303.92" stroke="#000" stroke-width="3" />
<rect x="80.75" y="1267.7" width="837.75" height="381.29999999999995" fill="none" stroke="#000" stroke-width="5"/>
<line x1="500.00" y1="1267.70" x2="500.00" y2="1649.00" stroke="#000" stroke-width="5" />
<line x1="83.25" y1="1601.34" x2="88.05" y2="1601.34" stroke="#000" stroke-width="4.6" />
<line x1="916.00" y1="1601.34" x2="911.20" y2="1601.34" stroke="#000" stroke-width="4.6" />
<line x1="492.70" y1="1601.34" x2="507.30" y2="1601.34" stroke="#000" stroke-width="4.6" />
<line x1="83.25" y1="1553.67" x2="94.25" y2="1553.67" stroke="#000" stroke-width="4.6" />
<line x1="916.00" y1="1553.67" x2="905.00" y2="1553.67" stroke="#000" stroke-width="4.6" />
<line x1="486.50" y1="1553.67" x2="513.50" y2="1553.67" stroke="#000" stroke-width="4.6" />
<line x1="83.25" y1="1506.01" x2="88.05" y2="1506.01" stroke="#000" stroke-width="4.6" />
<line x1="916.00" y1="1506.01" x2="911.20" y2="1506.01" stroke="#000" stroke-width="4.6" />
<line x1="492.70" y1="1506.01" x2="507.30" y2="1506.01" stroke="#000" stroke-width="4.6" />
<line x1="83.25" y1="1458.35" x2="94.25" y2="1458.35" stroke="#000" stroke-width="4.6" />
<line x1="916.00" y1="1458.35" x2="905.00" y2="1458.35" stroke="#000" stroke-width="4.6" />
<line x1="486.50" y1="1458.35" x2="513.50" y2="1458.35" stroke="#000" stroke-width="4.6" />
<line x1="83.25" y1="1410.69" x2="88.05" y2="1410.69" stroke="#000" stroke-width="4.6" />
<line x1="916.00" y1="1410.69" x2="911.20" y2="1410.69" stroke="#000" stroke-width="4.6" />
<line x1="492.70" y1="1410.69" x2="507.30" y2="1410.69" stroke="#000" stroke-width="4.6" />
<line x1="83.25" y1="1363.03" x2="94.25" y2="1363.03" stroke="#000" stroke-width="4.6" />
<line x1="916.00" y1="1363.03" x2="905.00" y2="1363.03" stroke="#000" stroke-width="4.6" />
<line x1="486.50" y1="1363.03" x2="513.50" y2="1363.03" stroke="#000" stroke-width="4.6" />
<line x1="83.25" y1="1315.36" x2="88.05" y2="1315.36" stroke="#000" stroke-width="4.6" />
<line x1="916.00" y1="1315.36" x2="911.20" y2="1315.36" stroke="#000" stroke-width="4.6" />
<line x1="492.70" y1="1315.36" x2="507.30" y2="1315.36" stroke="#000" stroke-width="4.6" />
<text transform="translate(66.00,1661.90) scale(1,1.04)" font-size="35.8" text-anchor="end" >0</text>
<text transform="translate(934.00,1661.90) scale(1,1.04)" font-size="35.8" text-anchor="start" >0</text>
<text transform="translate(66.00,1566.58) scale(1,1.04)" font-size="35.8" text-anchor="end" >2</text>
<text transform="translate(934.00,1566.58) scale(1,1.04)" font-size="35.8" text-anchor="start" >2</text>
<text transform="translate(66.00,1471.25) scale(1,1.04)" font-size="35.8" text-anchor="end" >4</text>
<text transform="translate(934.00,1471.25) scale(1,1.04)" font-size="35.8" text-anchor="start" >4</text>
<text transform="translate(66.00,1375.93) scale(1,1.04)" font-size="35.8" text-anchor="end" >6</text>
<text transform="translate(934.00,1375.93) scale(1,1.04)" font-size="35.8" text-anchor="start" >6</text>
<text transform="translate(66.00,1280.60) scale(1,1.04)" font-size="35.8" text-anchor="end" >8</text>
<text transform="translate(934.00,1280.60) scale(1,1.04)" font-size="35.8" text-anchor="start" >8</text>
<text transform="translate(132.00,1691.20) scale(1,1.04)" font-size="35.8" text-anchor="middle" >LP57</text>
<text transform="translate(238.70,1691.20) scale(1,1.04)" font-size="35.8" text-anchor="middle" >FEC</text>
<text transform="translate(343.00,1691.20) scale(1,1.04)" font-size="35.8" text-anchor="middle" >VC</text>
<text transform="translate(447.50,1691.20) scale(1,1.04)" font-size="35.8" text-anchor="middle" >DiFEC</text>
<text transform="translate(551.50,1691.20) scale(1,1.04)" font-size="35.8" text-anchor="middle" >LP57</text>
<text transform="translate(657.00,1691.20) scale(1,1.04)" font-size="35.8" text-anchor="middle" >FEC</text>
<text transform="translate(761.00,1691.20) scale(1,1.04)" font-size="35.8" text-anchor="middle" >VC</text>
<text transform="translate(865.50,1691.20) scale(1,1.04)" font-size="35.8" text-anchor="middle" >DiFEC</text>
<text transform="translate(96.20,1315.70) scale(1,1.04)" font-size="35.8" text-anchor="start" >d)</text>
<text transform="translate(150.80,1315.70) scale(1,1.04)" font-size="35.8" text-anchor="start" >R<tspan dy="9.8" font-size="24.34">Int</tspan><tspan dy="-9.8"> (= R</tspan><tspan dy="9.8" font-size="24.34">SEI</tspan><tspan dy="-9.8"> + R</tspan><tspan dy="9.8" font-size="24.34">CT</tspan><tspan dy="-9.8">)</tspan></text>
<text transform="translate(150.60,1363.20) scale(1,1.04)" font-size="29.9" text-anchor="start" >non-blocking cond.</text>
<text transform="translate(517.50,1315.70) scale(1,1.04)" font-size="35.8" text-anchor="start" >e)</text>
<text transform="translate(561.00,1315.70) scale(1,1.04)" font-size="35.8" text-anchor="start" >R<tspan dy="9.8" font-size="25.06">SEI</tspan></text>
<text transform="translate(560.00,1369.00) scale(1,1.04)" font-size="29.9" text-anchor="start" >blocking cond.</text>
<text transform="translate(32.2,1458) rotate(-90) scale(1,1.04)" font-size="36.34" text-anchor="middle">R<tspan dy="9.8" font-size="25.06">Int</tspan><tspan dy="-9.8"> [Ω cm</tspan><tspan dy="-13" font-size="24.34">2</tspan><tspan dy="13">]</tspan></text>
<text transform="translate(989.8,1458) rotate(-90) scale(1,1.04)" font-size="36.34" text-anchor="middle">R<tspan dy="9.8" font-size="25.06">SEI</tspan><tspan dy="-9.8"> [Ω cm</tspan><tspan dy="-13" font-size="24.34">2</tspan><tspan dy="13">]</tspan></text>
</svg>
</body></html>
